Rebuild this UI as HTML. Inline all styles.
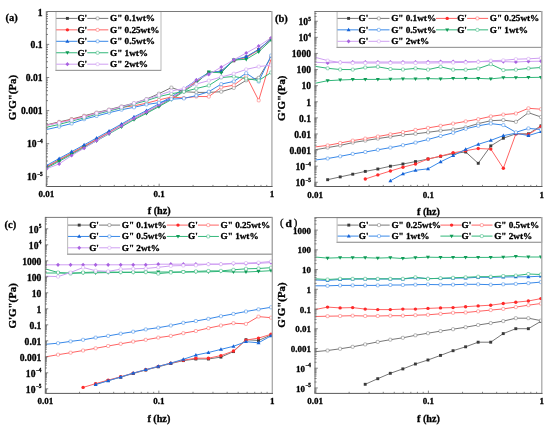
<!DOCTYPE html>
<html><head><meta charset="utf-8"><style>
html,body{margin:0;padding:0;background:#fff;}
svg{display:block;}
text{font-family:'Liberation Serif', 'Times New Roman', serif;font-weight:bold;fill:#000;stroke:#000;stroke-width:0.3px;}
</style></head><body>
<svg width="550" height="429" viewBox="0 0 550 429">
<rect width="550" height="429" fill="#fff"/>
<clipPath id="cla"><rect x="46.40" y="11.50" width="225.50" height="175.00"/></clipPath>
<g clip-path="url(#cla)">
<polyline points="46.70,167.20 59.17,160.30 71.64,153.50 84.11,146.70 96.58,139.80 109.05,132.80 121.52,125.80 133.99,118.70 146.46,112.40 158.93,105.60 171.40,98.60 183.87,90.50 196.34,82.00 208.81,72.60 221.28,71.00 233.75,60.80 246.22,57.00 258.69,49.50 271.16,38.80" fill="none" stroke="#777777" stroke-width="1" stroke-linejoin="round"/>
<rect x="45.25" y="165.75" width="2.9" height="2.9" fill="#3a3a3a"/>
<rect x="57.72" y="158.85" width="2.9" height="2.9" fill="#3a3a3a"/>
<rect x="70.19" y="152.05" width="2.9" height="2.9" fill="#3a3a3a"/>
<rect x="82.66" y="145.25" width="2.9" height="2.9" fill="#3a3a3a"/>
<rect x="95.13" y="138.35" width="2.9" height="2.9" fill="#3a3a3a"/>
<rect x="107.60" y="131.35" width="2.9" height="2.9" fill="#3a3a3a"/>
<rect x="120.07" y="124.35" width="2.9" height="2.9" fill="#3a3a3a"/>
<rect x="132.54" y="117.25" width="2.9" height="2.9" fill="#3a3a3a"/>
<rect x="145.01" y="110.95" width="2.9" height="2.9" fill="#3a3a3a"/>
<rect x="157.48" y="104.15" width="2.9" height="2.9" fill="#3a3a3a"/>
<rect x="169.95" y="97.15" width="2.9" height="2.9" fill="#3a3a3a"/>
<rect x="182.42" y="89.05" width="2.9" height="2.9" fill="#3a3a3a"/>
<rect x="194.89" y="80.55" width="2.9" height="2.9" fill="#3a3a3a"/>
<rect x="207.36" y="71.15" width="2.9" height="2.9" fill="#3a3a3a"/>
<rect x="219.83" y="69.55" width="2.9" height="2.9" fill="#3a3a3a"/>
<rect x="232.30" y="59.35" width="2.9" height="2.9" fill="#3a3a3a"/>
<rect x="244.77" y="55.55" width="2.9" height="2.9" fill="#3a3a3a"/>
<rect x="257.24" y="48.05" width="2.9" height="2.9" fill="#3a3a3a"/>
<rect x="269.71" y="37.35" width="2.9" height="2.9" fill="#3a3a3a"/>
<polyline points="46.70,166.60 59.17,159.70 71.64,152.90 84.11,146.10 96.58,139.20 109.05,132.20 121.52,125.20 133.99,118.10 146.46,111.80 158.93,105.00 171.40,98.00 183.87,89.90 196.34,81.40 208.81,72.60 221.28,71.50 233.75,60.20 246.22,57.50 258.69,50.00 271.16,38.80" fill="none" stroke="#ff6464" stroke-width="1" stroke-linejoin="round"/>
<circle cx="46.70" cy="166.60" r="1.7" fill="#ff2a2a"/>
<circle cx="59.17" cy="159.70" r="1.7" fill="#ff2a2a"/>
<circle cx="71.64" cy="152.90" r="1.7" fill="#ff2a2a"/>
<circle cx="84.11" cy="146.10" r="1.7" fill="#ff2a2a"/>
<circle cx="96.58" cy="139.20" r="1.7" fill="#ff2a2a"/>
<circle cx="109.05" cy="132.20" r="1.7" fill="#ff2a2a"/>
<circle cx="121.52" cy="125.20" r="1.7" fill="#ff2a2a"/>
<circle cx="133.99" cy="118.10" r="1.7" fill="#ff2a2a"/>
<circle cx="146.46" cy="111.80" r="1.7" fill="#ff2a2a"/>
<circle cx="158.93" cy="105.00" r="1.7" fill="#ff2a2a"/>
<circle cx="171.40" cy="98.00" r="1.7" fill="#ff2a2a"/>
<circle cx="183.87" cy="89.90" r="1.7" fill="#ff2a2a"/>
<circle cx="196.34" cy="81.40" r="1.7" fill="#ff2a2a"/>
<circle cx="208.81" cy="72.60" r="1.7" fill="#ff2a2a"/>
<circle cx="221.28" cy="71.50" r="1.7" fill="#ff2a2a"/>
<circle cx="233.75" cy="60.20" r="1.7" fill="#ff2a2a"/>
<circle cx="246.22" cy="57.50" r="1.7" fill="#ff2a2a"/>
<circle cx="258.69" cy="50.00" r="1.7" fill="#ff2a2a"/>
<circle cx="271.16" cy="38.80" r="1.7" fill="#ff2a2a"/>
<polyline points="46.70,165.40 59.17,158.50 71.64,151.70 84.11,144.90 96.58,138.00 109.05,131.00 121.52,124.00 133.99,116.90 146.46,110.60 158.93,103.80 171.40,96.80 183.87,88.70 196.34,80.20 208.81,72.60 221.28,71.20 233.75,59.80 246.22,56.70 258.69,49.40 271.16,38.80" fill="none" stroke="#3888e8" stroke-width="1" stroke-linejoin="round"/>
<polygon points="46.70,163.30 48.70,166.80 44.70,166.80" fill="#1662d6"/>
<polygon points="59.17,156.40 61.17,159.90 57.17,159.90" fill="#1662d6"/>
<polygon points="71.64,149.60 73.64,153.10 69.64,153.10" fill="#1662d6"/>
<polygon points="84.11,142.80 86.11,146.30 82.11,146.30" fill="#1662d6"/>
<polygon points="96.58,135.90 98.58,139.40 94.58,139.40" fill="#1662d6"/>
<polygon points="109.05,128.90 111.05,132.40 107.05,132.40" fill="#1662d6"/>
<polygon points="121.52,121.90 123.52,125.40 119.52,125.40" fill="#1662d6"/>
<polygon points="133.99,114.80 135.99,118.30 131.99,118.30" fill="#1662d6"/>
<polygon points="146.46,108.50 148.46,112.00 144.46,112.00" fill="#1662d6"/>
<polygon points="158.93,101.70 160.93,105.20 156.93,105.20" fill="#1662d6"/>
<polygon points="171.40,94.70 173.40,98.20 169.40,98.20" fill="#1662d6"/>
<polygon points="183.87,86.60 185.87,90.10 181.87,90.10" fill="#1662d6"/>
<polygon points="196.34,78.10 198.34,81.60 194.34,81.60" fill="#1662d6"/>
<polygon points="208.81,70.50 210.81,74.00 206.81,74.00" fill="#1662d6"/>
<polygon points="221.28,69.10 223.28,72.60 219.28,72.60" fill="#1662d6"/>
<polygon points="233.75,57.70 235.75,61.20 231.75,61.20" fill="#1662d6"/>
<polygon points="246.22,54.60 248.22,58.10 244.22,58.10" fill="#1662d6"/>
<polygon points="258.69,47.30 260.69,50.80 256.69,50.80" fill="#1662d6"/>
<polygon points="271.16,36.70 273.16,40.20 269.16,40.20" fill="#1662d6"/>
<polyline points="46.70,168.20 59.17,161.30 71.64,154.50 84.11,147.70 96.58,140.80 109.05,133.80 121.52,126.80 133.99,119.70 146.46,113.40 158.93,106.60 171.40,99.60 183.87,91.50 196.34,83.00 208.81,72.00 221.28,72.80 233.75,60.00 246.22,59.30 258.69,51.80 271.16,40.20" fill="none" stroke="#32b77a" stroke-width="1" stroke-linejoin="round"/>
<polygon points="46.70,170.30 48.70,166.80 44.70,166.80" fill="#0f9a55"/>
<polygon points="59.17,163.40 61.17,159.90 57.17,159.90" fill="#0f9a55"/>
<polygon points="71.64,156.60 73.64,153.10 69.64,153.10" fill="#0f9a55"/>
<polygon points="84.11,149.80 86.11,146.30 82.11,146.30" fill="#0f9a55"/>
<polygon points="96.58,142.90 98.58,139.40 94.58,139.40" fill="#0f9a55"/>
<polygon points="109.05,135.90 111.05,132.40 107.05,132.40" fill="#0f9a55"/>
<polygon points="121.52,128.90 123.52,125.40 119.52,125.40" fill="#0f9a55"/>
<polygon points="133.99,121.80 135.99,118.30 131.99,118.30" fill="#0f9a55"/>
<polygon points="146.46,115.50 148.46,112.00 144.46,112.00" fill="#0f9a55"/>
<polygon points="158.93,108.70 160.93,105.20 156.93,105.20" fill="#0f9a55"/>
<polygon points="171.40,101.70 173.40,98.20 169.40,98.20" fill="#0f9a55"/>
<polygon points="183.87,93.60 185.87,90.10 181.87,90.10" fill="#0f9a55"/>
<polygon points="196.34,85.10 198.34,81.60 194.34,81.60" fill="#0f9a55"/>
<polygon points="208.81,74.10 210.81,70.60 206.81,70.60" fill="#0f9a55"/>
<polygon points="221.28,74.90 223.28,71.40 219.28,71.40" fill="#0f9a55"/>
<polygon points="233.75,62.10 235.75,58.60 231.75,58.60" fill="#0f9a55"/>
<polygon points="246.22,61.40 248.22,57.90 244.22,57.90" fill="#0f9a55"/>
<polygon points="258.69,53.90 260.69,50.40 256.69,50.40" fill="#0f9a55"/>
<polygon points="271.16,42.30 273.16,38.80 269.16,38.80" fill="#0f9a55"/>
<polyline points="46.70,168.70 59.17,163.90 71.64,155.50 84.11,148.20 96.58,140.60 109.05,133.30 121.52,125.80 133.99,118.30 146.46,111.90 158.93,105.00 171.40,97.90 183.87,89.70 196.34,80.00 208.81,74.40 221.28,67.10 233.75,59.80 246.22,53.00 258.69,46.10 271.16,37.80" fill="none" stroke="#cf9ff2" stroke-width="1" stroke-linejoin="round"/>
<polygon points="46.70,166.60 48.60,168.70 46.70,170.80 44.80,168.70" fill="#a862e0"/>
<polygon points="59.17,161.80 61.07,163.90 59.17,166.00 57.27,163.90" fill="#a862e0"/>
<polygon points="71.64,153.40 73.54,155.50 71.64,157.60 69.74,155.50" fill="#a862e0"/>
<polygon points="84.11,146.10 86.01,148.20 84.11,150.30 82.21,148.20" fill="#a862e0"/>
<polygon points="96.58,138.50 98.48,140.60 96.58,142.70 94.68,140.60" fill="#a862e0"/>
<polygon points="109.05,131.20 110.95,133.30 109.05,135.40 107.15,133.30" fill="#a862e0"/>
<polygon points="121.52,123.70 123.42,125.80 121.52,127.90 119.62,125.80" fill="#a862e0"/>
<polygon points="133.99,116.20 135.89,118.30 133.99,120.40 132.09,118.30" fill="#a862e0"/>
<polygon points="146.46,109.80 148.36,111.90 146.46,114.00 144.56,111.90" fill="#a862e0"/>
<polygon points="158.93,102.90 160.83,105.00 158.93,107.10 157.03,105.00" fill="#a862e0"/>
<polygon points="171.40,95.80 173.30,97.90 171.40,100.00 169.50,97.90" fill="#a862e0"/>
<polygon points="183.87,87.60 185.77,89.70 183.87,91.80 181.97,89.70" fill="#a862e0"/>
<polygon points="196.34,77.90 198.24,80.00 196.34,82.10 194.44,80.00" fill="#a862e0"/>
<polygon points="208.81,72.30 210.71,74.40 208.81,76.50 206.91,74.40" fill="#a862e0"/>
<polygon points="221.28,65.00 223.18,67.10 221.28,69.20 219.38,67.10" fill="#a862e0"/>
<polygon points="233.75,57.70 235.65,59.80 233.75,61.90 231.85,59.80" fill="#a862e0"/>
<polygon points="246.22,50.90 248.12,53.00 246.22,55.10 244.32,53.00" fill="#a862e0"/>
<polygon points="258.69,44.00 260.59,46.10 258.69,48.20 256.79,46.10" fill="#a862e0"/>
<polygon points="271.16,35.70 273.06,37.80 271.16,39.90 269.26,37.80" fill="#a862e0"/>
<polyline points="46.70,124.80 59.17,121.90 71.64,119.10 84.11,115.80 96.58,112.60 109.05,109.60 121.52,106.40 133.99,103.20 146.46,99.10 158.93,93.70 171.40,87.60 183.87,91.70 196.34,92.40 208.81,92.40 221.28,91.70 233.75,87.90 246.22,80.30 258.69,77.80 271.16,57.00" fill="none" stroke="#777777" stroke-width="1" stroke-linejoin="round"/>
<rect x="57.67" y="120.40" width="3.0" height="3.0" rx="0.8" fill="#fff" stroke="#777777" stroke-opacity="0.75" stroke-width="0.7"/>
<rect x="70.14" y="117.60" width="3.0" height="3.0" rx="0.8" fill="#fff" stroke="#777777" stroke-opacity="0.75" stroke-width="0.7"/>
<rect x="82.61" y="114.30" width="3.0" height="3.0" rx="0.8" fill="#fff" stroke="#777777" stroke-opacity="0.75" stroke-width="0.7"/>
<rect x="95.08" y="111.10" width="3.0" height="3.0" rx="0.8" fill="#fff" stroke="#777777" stroke-opacity="0.75" stroke-width="0.7"/>
<rect x="107.55" y="108.10" width="3.0" height="3.0" rx="0.8" fill="#fff" stroke="#777777" stroke-opacity="0.75" stroke-width="0.7"/>
<rect x="120.02" y="104.90" width="3.0" height="3.0" rx="0.8" fill="#fff" stroke="#777777" stroke-opacity="0.75" stroke-width="0.7"/>
<rect x="132.49" y="101.70" width="3.0" height="3.0" rx="0.8" fill="#fff" stroke="#777777" stroke-opacity="0.75" stroke-width="0.7"/>
<rect x="144.96" y="97.60" width="3.0" height="3.0" rx="0.8" fill="#fff" stroke="#777777" stroke-opacity="0.75" stroke-width="0.7"/>
<rect x="157.43" y="92.20" width="3.0" height="3.0" rx="0.8" fill="#fff" stroke="#777777" stroke-opacity="0.75" stroke-width="0.7"/>
<rect x="169.90" y="86.10" width="3.0" height="3.0" rx="0.8" fill="#fff" stroke="#777777" stroke-opacity="0.75" stroke-width="0.7"/>
<rect x="182.37" y="90.20" width="3.0" height="3.0" rx="0.8" fill="#fff" stroke="#777777" stroke-opacity="0.75" stroke-width="0.7"/>
<rect x="194.84" y="90.90" width="3.0" height="3.0" rx="0.8" fill="#fff" stroke="#777777" stroke-opacity="0.75" stroke-width="0.7"/>
<rect x="207.31" y="90.90" width="3.0" height="3.0" rx="0.8" fill="#fff" stroke="#777777" stroke-opacity="0.75" stroke-width="0.7"/>
<rect x="219.78" y="90.20" width="3.0" height="3.0" rx="0.8" fill="#fff" stroke="#777777" stroke-opacity="0.75" stroke-width="0.7"/>
<rect x="232.25" y="86.40" width="3.0" height="3.0" rx="0.8" fill="#fff" stroke="#777777" stroke-opacity="0.75" stroke-width="0.7"/>
<rect x="244.72" y="78.80" width="3.0" height="3.0" rx="0.8" fill="#fff" stroke="#777777" stroke-opacity="0.75" stroke-width="0.7"/>
<rect x="257.19" y="76.30" width="3.0" height="3.0" rx="0.8" fill="#fff" stroke="#777777" stroke-opacity="0.75" stroke-width="0.7"/>
<rect x="269.66" y="55.50" width="3.0" height="3.0" rx="0.8" fill="#fff" stroke="#777777" stroke-opacity="0.75" stroke-width="0.7"/>
<polyline points="46.70,125.30 59.17,122.40 71.64,119.60 84.11,116.40 96.58,113.20 109.05,110.40 121.52,107.40 133.99,105.80 146.46,103.20 158.93,99.90 171.40,97.00 183.87,98.00 196.34,96.50 208.81,96.60 221.28,87.40 233.75,85.20 246.22,75.90 258.69,100.40 271.16,58.50" fill="none" stroke="#ff6464" stroke-width="1" stroke-linejoin="round"/>
<rect x="57.67" y="120.90" width="3.0" height="3.0" rx="0.8" fill="#fff" stroke="#ff6464" stroke-opacity="0.75" stroke-width="0.7"/>
<rect x="70.14" y="118.10" width="3.0" height="3.0" rx="0.8" fill="#fff" stroke="#ff6464" stroke-opacity="0.75" stroke-width="0.7"/>
<rect x="82.61" y="114.90" width="3.0" height="3.0" rx="0.8" fill="#fff" stroke="#ff6464" stroke-opacity="0.75" stroke-width="0.7"/>
<rect x="95.08" y="111.70" width="3.0" height="3.0" rx="0.8" fill="#fff" stroke="#ff6464" stroke-opacity="0.75" stroke-width="0.7"/>
<rect x="107.55" y="108.90" width="3.0" height="3.0" rx="0.8" fill="#fff" stroke="#ff6464" stroke-opacity="0.75" stroke-width="0.7"/>
<rect x="120.02" y="105.90" width="3.0" height="3.0" rx="0.8" fill="#fff" stroke="#ff6464" stroke-opacity="0.75" stroke-width="0.7"/>
<rect x="132.49" y="104.30" width="3.0" height="3.0" rx="0.8" fill="#fff" stroke="#ff6464" stroke-opacity="0.75" stroke-width="0.7"/>
<rect x="144.96" y="101.70" width="3.0" height="3.0" rx="0.8" fill="#fff" stroke="#ff6464" stroke-opacity="0.75" stroke-width="0.7"/>
<rect x="157.43" y="98.40" width="3.0" height="3.0" rx="0.8" fill="#fff" stroke="#ff6464" stroke-opacity="0.75" stroke-width="0.7"/>
<rect x="169.90" y="95.50" width="3.0" height="3.0" rx="0.8" fill="#fff" stroke="#ff6464" stroke-opacity="0.75" stroke-width="0.7"/>
<rect x="182.37" y="96.50" width="3.0" height="3.0" rx="0.8" fill="#fff" stroke="#ff6464" stroke-opacity="0.75" stroke-width="0.7"/>
<rect x="194.84" y="95.00" width="3.0" height="3.0" rx="0.8" fill="#fff" stroke="#ff6464" stroke-opacity="0.75" stroke-width="0.7"/>
<rect x="207.31" y="95.10" width="3.0" height="3.0" rx="0.8" fill="#fff" stroke="#ff6464" stroke-opacity="0.75" stroke-width="0.7"/>
<rect x="219.78" y="85.90" width="3.0" height="3.0" rx="0.8" fill="#fff" stroke="#ff6464" stroke-opacity="0.75" stroke-width="0.7"/>
<rect x="232.25" y="83.70" width="3.0" height="3.0" rx="0.8" fill="#fff" stroke="#ff6464" stroke-opacity="0.75" stroke-width="0.7"/>
<rect x="244.72" y="74.40" width="3.0" height="3.0" rx="0.8" fill="#fff" stroke="#ff6464" stroke-opacity="0.75" stroke-width="0.7"/>
<rect x="257.19" y="98.90" width="3.0" height="3.0" rx="0.8" fill="#fff" stroke="#ff6464" stroke-opacity="0.75" stroke-width="0.7"/>
<rect x="269.66" y="57.00" width="3.0" height="3.0" rx="0.8" fill="#fff" stroke="#ff6464" stroke-opacity="0.75" stroke-width="0.7"/>
<polyline points="46.70,129.50 59.17,126.70 71.64,123.50 84.11,119.20 96.58,116.00 109.05,112.70 121.52,109.70 133.99,107.30 146.46,104.50 158.93,102.70 171.40,99.20 183.87,98.40 196.34,95.60 208.81,91.70 221.28,84.10 233.75,81.40 246.22,73.20 258.69,81.50 271.16,55.50" fill="none" stroke="#3888e8" stroke-width="1" stroke-linejoin="round"/>
<rect x="57.67" y="125.20" width="3.0" height="3.0" rx="0.8" fill="#fff" stroke="#3888e8" stroke-opacity="0.75" stroke-width="0.7"/>
<rect x="70.14" y="122.00" width="3.0" height="3.0" rx="0.8" fill="#fff" stroke="#3888e8" stroke-opacity="0.75" stroke-width="0.7"/>
<rect x="82.61" y="117.70" width="3.0" height="3.0" rx="0.8" fill="#fff" stroke="#3888e8" stroke-opacity="0.75" stroke-width="0.7"/>
<rect x="95.08" y="114.50" width="3.0" height="3.0" rx="0.8" fill="#fff" stroke="#3888e8" stroke-opacity="0.75" stroke-width="0.7"/>
<rect x="107.55" y="111.20" width="3.0" height="3.0" rx="0.8" fill="#fff" stroke="#3888e8" stroke-opacity="0.75" stroke-width="0.7"/>
<rect x="120.02" y="108.20" width="3.0" height="3.0" rx="0.8" fill="#fff" stroke="#3888e8" stroke-opacity="0.75" stroke-width="0.7"/>
<rect x="132.49" y="105.80" width="3.0" height="3.0" rx="0.8" fill="#fff" stroke="#3888e8" stroke-opacity="0.75" stroke-width="0.7"/>
<rect x="144.96" y="103.00" width="3.0" height="3.0" rx="0.8" fill="#fff" stroke="#3888e8" stroke-opacity="0.75" stroke-width="0.7"/>
<rect x="157.43" y="101.20" width="3.0" height="3.0" rx="0.8" fill="#fff" stroke="#3888e8" stroke-opacity="0.75" stroke-width="0.7"/>
<rect x="169.90" y="97.70" width="3.0" height="3.0" rx="0.8" fill="#fff" stroke="#3888e8" stroke-opacity="0.75" stroke-width="0.7"/>
<rect x="182.37" y="96.90" width="3.0" height="3.0" rx="0.8" fill="#fff" stroke="#3888e8" stroke-opacity="0.75" stroke-width="0.7"/>
<rect x="194.84" y="94.10" width="3.0" height="3.0" rx="0.8" fill="#fff" stroke="#3888e8" stroke-opacity="0.75" stroke-width="0.7"/>
<rect x="207.31" y="90.20" width="3.0" height="3.0" rx="0.8" fill="#fff" stroke="#3888e8" stroke-opacity="0.75" stroke-width="0.7"/>
<rect x="219.78" y="82.60" width="3.0" height="3.0" rx="0.8" fill="#fff" stroke="#3888e8" stroke-opacity="0.75" stroke-width="0.7"/>
<rect x="232.25" y="79.90" width="3.0" height="3.0" rx="0.8" fill="#fff" stroke="#3888e8" stroke-opacity="0.75" stroke-width="0.7"/>
<rect x="244.72" y="71.70" width="3.0" height="3.0" rx="0.8" fill="#fff" stroke="#3888e8" stroke-opacity="0.75" stroke-width="0.7"/>
<rect x="257.19" y="80.00" width="3.0" height="3.0" rx="0.8" fill="#fff" stroke="#3888e8" stroke-opacity="0.75" stroke-width="0.7"/>
<rect x="269.66" y="54.00" width="3.0" height="3.0" rx="0.8" fill="#fff" stroke="#3888e8" stroke-opacity="0.75" stroke-width="0.7"/>
<polyline points="46.70,127.20 59.17,124.40 71.64,121.10 84.11,117.90 96.58,114.10 109.05,111.00 121.52,107.80 133.99,104.00 146.46,100.70 158.93,96.60 171.40,93.70 183.87,91.70 196.34,88.50 208.81,85.50 221.28,77.50 233.75,76.50 246.22,78.60 258.69,80.50 271.16,72.50" fill="none" stroke="#32b77a" stroke-width="1" stroke-linejoin="round"/>
<rect x="57.67" y="122.90" width="3.0" height="3.0" rx="0.8" fill="#fff" stroke="#32b77a" stroke-opacity="0.75" stroke-width="0.7"/>
<rect x="70.14" y="119.60" width="3.0" height="3.0" rx="0.8" fill="#fff" stroke="#32b77a" stroke-opacity="0.75" stroke-width="0.7"/>
<rect x="82.61" y="116.40" width="3.0" height="3.0" rx="0.8" fill="#fff" stroke="#32b77a" stroke-opacity="0.75" stroke-width="0.7"/>
<rect x="95.08" y="112.60" width="3.0" height="3.0" rx="0.8" fill="#fff" stroke="#32b77a" stroke-opacity="0.75" stroke-width="0.7"/>
<rect x="107.55" y="109.50" width="3.0" height="3.0" rx="0.8" fill="#fff" stroke="#32b77a" stroke-opacity="0.75" stroke-width="0.7"/>
<rect x="120.02" y="106.30" width="3.0" height="3.0" rx="0.8" fill="#fff" stroke="#32b77a" stroke-opacity="0.75" stroke-width="0.7"/>
<rect x="132.49" y="102.50" width="3.0" height="3.0" rx="0.8" fill="#fff" stroke="#32b77a" stroke-opacity="0.75" stroke-width="0.7"/>
<rect x="144.96" y="99.20" width="3.0" height="3.0" rx="0.8" fill="#fff" stroke="#32b77a" stroke-opacity="0.75" stroke-width="0.7"/>
<rect x="157.43" y="95.10" width="3.0" height="3.0" rx="0.8" fill="#fff" stroke="#32b77a" stroke-opacity="0.75" stroke-width="0.7"/>
<rect x="169.90" y="92.20" width="3.0" height="3.0" rx="0.8" fill="#fff" stroke="#32b77a" stroke-opacity="0.75" stroke-width="0.7"/>
<rect x="182.37" y="90.20" width="3.0" height="3.0" rx="0.8" fill="#fff" stroke="#32b77a" stroke-opacity="0.75" stroke-width="0.7"/>
<rect x="194.84" y="87.00" width="3.0" height="3.0" rx="0.8" fill="#fff" stroke="#32b77a" stroke-opacity="0.75" stroke-width="0.7"/>
<rect x="207.31" y="84.00" width="3.0" height="3.0" rx="0.8" fill="#fff" stroke="#32b77a" stroke-opacity="0.75" stroke-width="0.7"/>
<rect x="219.78" y="76.00" width="3.0" height="3.0" rx="0.8" fill="#fff" stroke="#32b77a" stroke-opacity="0.75" stroke-width="0.7"/>
<rect x="232.25" y="75.00" width="3.0" height="3.0" rx="0.8" fill="#fff" stroke="#32b77a" stroke-opacity="0.75" stroke-width="0.7"/>
<rect x="244.72" y="77.10" width="3.0" height="3.0" rx="0.8" fill="#fff" stroke="#32b77a" stroke-opacity="0.75" stroke-width="0.7"/>
<rect x="257.19" y="79.00" width="3.0" height="3.0" rx="0.8" fill="#fff" stroke="#32b77a" stroke-opacity="0.75" stroke-width="0.7"/>
<rect x="269.66" y="71.00" width="3.0" height="3.0" rx="0.8" fill="#fff" stroke="#32b77a" stroke-opacity="0.75" stroke-width="0.7"/>
<polyline points="46.70,125.20 59.17,122.80 71.64,120.20 84.11,116.80 96.58,113.20 109.05,110.20 121.52,107.00 133.99,103.20 146.46,99.50 158.93,95.20 171.40,91.00 183.87,88.50 196.34,84.00 208.81,80.60 221.28,77.00 233.75,73.70 246.22,69.40 258.69,66.60 271.16,65.20" fill="none" stroke="#cf9ff2" stroke-width="1" stroke-linejoin="round"/>
<rect x="57.67" y="121.30" width="3.0" height="3.0" rx="0.8" fill="#fff" stroke="#cf9ff2" stroke-opacity="0.75" stroke-width="0.7"/>
<rect x="70.14" y="118.70" width="3.0" height="3.0" rx="0.8" fill="#fff" stroke="#cf9ff2" stroke-opacity="0.75" stroke-width="0.7"/>
<rect x="82.61" y="115.30" width="3.0" height="3.0" rx="0.8" fill="#fff" stroke="#cf9ff2" stroke-opacity="0.75" stroke-width="0.7"/>
<rect x="95.08" y="111.70" width="3.0" height="3.0" rx="0.8" fill="#fff" stroke="#cf9ff2" stroke-opacity="0.75" stroke-width="0.7"/>
<rect x="107.55" y="108.70" width="3.0" height="3.0" rx="0.8" fill="#fff" stroke="#cf9ff2" stroke-opacity="0.75" stroke-width="0.7"/>
<rect x="120.02" y="105.50" width="3.0" height="3.0" rx="0.8" fill="#fff" stroke="#cf9ff2" stroke-opacity="0.75" stroke-width="0.7"/>
<rect x="132.49" y="101.70" width="3.0" height="3.0" rx="0.8" fill="#fff" stroke="#cf9ff2" stroke-opacity="0.75" stroke-width="0.7"/>
<rect x="144.96" y="98.00" width="3.0" height="3.0" rx="0.8" fill="#fff" stroke="#cf9ff2" stroke-opacity="0.75" stroke-width="0.7"/>
<rect x="157.43" y="93.70" width="3.0" height="3.0" rx="0.8" fill="#fff" stroke="#cf9ff2" stroke-opacity="0.75" stroke-width="0.7"/>
<rect x="169.90" y="89.50" width="3.0" height="3.0" rx="0.8" fill="#fff" stroke="#cf9ff2" stroke-opacity="0.75" stroke-width="0.7"/>
<rect x="182.37" y="87.00" width="3.0" height="3.0" rx="0.8" fill="#fff" stroke="#cf9ff2" stroke-opacity="0.75" stroke-width="0.7"/>
<rect x="194.84" y="82.50" width="3.0" height="3.0" rx="0.8" fill="#fff" stroke="#cf9ff2" stroke-opacity="0.75" stroke-width="0.7"/>
<rect x="207.31" y="79.10" width="3.0" height="3.0" rx="0.8" fill="#fff" stroke="#cf9ff2" stroke-opacity="0.75" stroke-width="0.7"/>
<rect x="219.78" y="75.50" width="3.0" height="3.0" rx="0.8" fill="#fff" stroke="#cf9ff2" stroke-opacity="0.75" stroke-width="0.7"/>
<rect x="232.25" y="72.20" width="3.0" height="3.0" rx="0.8" fill="#fff" stroke="#cf9ff2" stroke-opacity="0.75" stroke-width="0.7"/>
<rect x="244.72" y="67.90" width="3.0" height="3.0" rx="0.8" fill="#fff" stroke="#cf9ff2" stroke-opacity="0.75" stroke-width="0.7"/>
<rect x="257.19" y="65.10" width="3.0" height="3.0" rx="0.8" fill="#fff" stroke="#cf9ff2" stroke-opacity="0.75" stroke-width="0.7"/>
<rect x="269.66" y="63.70" width="3.0" height="3.0" rx="0.8" fill="#fff" stroke="#cf9ff2" stroke-opacity="0.75" stroke-width="0.7"/>
</g>
<text x="42.60" y="180.20" font-size="9.6" text-anchor="end" >10<tspan font-size="5.3" dx="0.3" dy="-4.4">−5</tspan></text>
<text x="42.60" y="147.10" font-size="9.6" text-anchor="end" >10<tspan font-size="5.3" dx="0.3" dy="-4.4">−4</tspan></text>
<text x="42.60" y="114.00" font-size="9.6" text-anchor="end" >0.001</text>
<text x="42.60" y="80.90" font-size="9.6" text-anchor="end" >0.01</text>
<text x="42.60" y="47.80" font-size="9.6" text-anchor="end" >0.1</text>
<text x="42.60" y="15.60" font-size="9.6" text-anchor="end" >1</text>
<text x="46.40" y="197.20" font-size="9.0" text-anchor="middle" >0.01</text>
<text x="159.15" y="197.20" font-size="9.0" text-anchor="middle" >0.1</text>
<text x="271.90" y="197.20" font-size="9.0" text-anchor="middle" >1</text>
<text x="159.15" y="213.80" font-size="10.2" text-anchor="middle" >f (hz)</text>
<text x="0" y="0" font-size="10.9" text-anchor="middle" transform="translate(15.80,97.50) rotate(-90)">G'G"(Pa)</text>
<rect x="56.00" y="11.50" width="105.00" height="58.90" fill="#fff" stroke="#c0c0c0" stroke-width="1.1"/>
<line x1="55.50" y1="70.40" x2="161.00" y2="70.40" stroke="#999" stroke-width="1"/>
<line x1="56.20" y1="18.40" x2="77.30" y2="18.40" stroke="#777777" stroke-width="1"/>
<rect x="65.95" y="16.95" width="2.9" height="2.9" fill="#3a3a3a"/>
<text x="77.40" y="21.20" font-size="9.2" text-anchor="start" >G'</text>
<line x1="87.30" y1="18.40" x2="108.30" y2="18.40" stroke="#777777" stroke-width="1"/>
<rect x="96.10" y="16.90" width="3.0" height="3.0" rx="0.8" fill="#fff" stroke="#777777" stroke-opacity="0.75" stroke-width="0.7"/>
<text x="110.00" y="21.20" font-size="9.2" text-anchor="start" >G" 0.1wt%</text>
<line x1="56.20" y1="29.85" x2="77.30" y2="29.85" stroke="#ff6464" stroke-width="1"/>
<circle cx="67.40" cy="29.85" r="1.7" fill="#ff2a2a"/>
<text x="77.40" y="32.65" font-size="9.2" text-anchor="start" >G'</text>
<line x1="87.30" y1="29.85" x2="108.30" y2="29.85" stroke="#ff6464" stroke-width="1"/>
<rect x="96.10" y="28.35" width="3.0" height="3.0" rx="0.8" fill="#fff" stroke="#ff6464" stroke-opacity="0.75" stroke-width="0.7"/>
<text x="110.00" y="32.65" font-size="9.2" text-anchor="start" >G" 0.25wt%</text>
<line x1="56.20" y1="41.30" x2="77.30" y2="41.30" stroke="#3888e8" stroke-width="1"/>
<polygon points="67.40,39.20 69.40,42.70 65.40,42.70" fill="#1662d6"/>
<text x="77.40" y="44.10" font-size="9.2" text-anchor="start" >G'</text>
<line x1="87.30" y1="41.30" x2="108.30" y2="41.30" stroke="#3888e8" stroke-width="1"/>
<rect x="96.10" y="39.80" width="3.0" height="3.0" rx="0.8" fill="#fff" stroke="#3888e8" stroke-opacity="0.75" stroke-width="0.7"/>
<text x="110.00" y="44.10" font-size="9.2" text-anchor="start" >G" 0.5wt%</text>
<line x1="56.20" y1="52.75" x2="77.30" y2="52.75" stroke="#32b77a" stroke-width="1"/>
<polygon points="67.40,54.85 69.40,51.35 65.40,51.35" fill="#0f9a55"/>
<text x="77.40" y="55.55" font-size="9.2" text-anchor="start" >G'</text>
<line x1="87.30" y1="52.75" x2="108.30" y2="52.75" stroke="#32b77a" stroke-width="1"/>
<rect x="96.10" y="51.25" width="3.0" height="3.0" rx="0.8" fill="#fff" stroke="#32b77a" stroke-opacity="0.75" stroke-width="0.7"/>
<text x="110.00" y="55.55" font-size="9.2" text-anchor="start" >G" 1wt%</text>
<line x1="56.20" y1="64.20" x2="77.30" y2="64.20" stroke="#cf9ff2" stroke-width="1"/>
<polygon points="67.40,62.10 69.30,64.20 67.40,66.30 65.50,64.20" fill="#a862e0"/>
<text x="77.40" y="67.00" font-size="9.2" text-anchor="start" >G'</text>
<line x1="87.30" y1="64.20" x2="108.30" y2="64.20" stroke="#cf9ff2" stroke-width="1"/>
<rect x="96.10" y="62.70" width="3.0" height="3.0" rx="0.8" fill="#fff" stroke="#cf9ff2" stroke-opacity="0.75" stroke-width="0.7"/>
<text x="110.00" y="67.00" font-size="9.2" text-anchor="start" >G" 2wt%</text>
<line x1="46.40" y1="11.50" x2="271.90" y2="11.50" stroke="#7a7a7a" stroke-width="1"/>
<line x1="271.90" y1="11.00" x2="271.90" y2="187.00" stroke="#a8a8a8" stroke-width="1.3"/>
<line x1="46.40" y1="186.50" x2="272.50" y2="186.50" stroke="#5a5a5a" stroke-width="1"/>
<line x1="46.40" y1="11.00" x2="46.40" y2="187.00" stroke="#939393" stroke-width="1.3"/>
<line x1="46.00" y1="184.14" x2="48.00" y2="184.14" stroke="#666" stroke-width="0.8"/>
<line x1="46.00" y1="181.93" x2="48.00" y2="181.93" stroke="#666" stroke-width="0.8"/>
<line x1="46.00" y1="180.01" x2="48.00" y2="180.01" stroke="#666" stroke-width="0.8"/>
<line x1="46.00" y1="178.31" x2="48.00" y2="178.31" stroke="#666" stroke-width="0.8"/>
<line x1="46.00" y1="176.80" x2="49.20" y2="176.80" stroke="#666" stroke-width="0.8"/>
<line x1="46.00" y1="166.84" x2="48.00" y2="166.84" stroke="#666" stroke-width="0.8"/>
<line x1="46.00" y1="161.01" x2="48.00" y2="161.01" stroke="#666" stroke-width="0.8"/>
<line x1="46.00" y1="156.87" x2="48.00" y2="156.87" stroke="#666" stroke-width="0.8"/>
<line x1="46.00" y1="153.66" x2="48.00" y2="153.66" stroke="#666" stroke-width="0.8"/>
<line x1="46.00" y1="151.04" x2="48.00" y2="151.04" stroke="#666" stroke-width="0.8"/>
<line x1="46.00" y1="148.83" x2="48.00" y2="148.83" stroke="#666" stroke-width="0.8"/>
<line x1="46.00" y1="146.91" x2="48.00" y2="146.91" stroke="#666" stroke-width="0.8"/>
<line x1="46.00" y1="145.21" x2="48.00" y2="145.21" stroke="#666" stroke-width="0.8"/>
<line x1="46.00" y1="143.70" x2="49.20" y2="143.70" stroke="#666" stroke-width="0.8"/>
<line x1="46.00" y1="133.74" x2="48.00" y2="133.74" stroke="#666" stroke-width="0.8"/>
<line x1="46.00" y1="127.91" x2="48.00" y2="127.91" stroke="#666" stroke-width="0.8"/>
<line x1="46.00" y1="123.77" x2="48.00" y2="123.77" stroke="#666" stroke-width="0.8"/>
<line x1="46.00" y1="120.56" x2="48.00" y2="120.56" stroke="#666" stroke-width="0.8"/>
<line x1="46.00" y1="117.94" x2="48.00" y2="117.94" stroke="#666" stroke-width="0.8"/>
<line x1="46.00" y1="115.73" x2="48.00" y2="115.73" stroke="#666" stroke-width="0.8"/>
<line x1="46.00" y1="113.81" x2="48.00" y2="113.81" stroke="#666" stroke-width="0.8"/>
<line x1="46.00" y1="112.11" x2="48.00" y2="112.11" stroke="#666" stroke-width="0.8"/>
<line x1="46.00" y1="110.60" x2="49.20" y2="110.60" stroke="#666" stroke-width="0.8"/>
<line x1="46.00" y1="100.64" x2="48.00" y2="100.64" stroke="#666" stroke-width="0.8"/>
<line x1="46.00" y1="94.81" x2="48.00" y2="94.81" stroke="#666" stroke-width="0.8"/>
<line x1="46.00" y1="90.67" x2="48.00" y2="90.67" stroke="#666" stroke-width="0.8"/>
<line x1="46.00" y1="87.46" x2="48.00" y2="87.46" stroke="#666" stroke-width="0.8"/>
<line x1="46.00" y1="84.84" x2="48.00" y2="84.84" stroke="#666" stroke-width="0.8"/>
<line x1="46.00" y1="82.63" x2="48.00" y2="82.63" stroke="#666" stroke-width="0.8"/>
<line x1="46.00" y1="80.71" x2="48.00" y2="80.71" stroke="#666" stroke-width="0.8"/>
<line x1="46.00" y1="79.01" x2="48.00" y2="79.01" stroke="#666" stroke-width="0.8"/>
<line x1="46.00" y1="77.50" x2="49.20" y2="77.50" stroke="#666" stroke-width="0.8"/>
<line x1="46.00" y1="67.54" x2="48.00" y2="67.54" stroke="#666" stroke-width="0.8"/>
<line x1="46.00" y1="61.71" x2="48.00" y2="61.71" stroke="#666" stroke-width="0.8"/>
<line x1="46.00" y1="57.57" x2="48.00" y2="57.57" stroke="#666" stroke-width="0.8"/>
<line x1="46.00" y1="54.36" x2="48.00" y2="54.36" stroke="#666" stroke-width="0.8"/>
<line x1="46.00" y1="51.74" x2="48.00" y2="51.74" stroke="#666" stroke-width="0.8"/>
<line x1="46.00" y1="49.53" x2="48.00" y2="49.53" stroke="#666" stroke-width="0.8"/>
<line x1="46.00" y1="47.61" x2="48.00" y2="47.61" stroke="#666" stroke-width="0.8"/>
<line x1="46.00" y1="45.91" x2="48.00" y2="45.91" stroke="#666" stroke-width="0.8"/>
<line x1="46.00" y1="44.40" x2="49.20" y2="44.40" stroke="#666" stroke-width="0.8"/>
<line x1="46.00" y1="34.44" x2="48.00" y2="34.44" stroke="#666" stroke-width="0.8"/>
<line x1="46.00" y1="28.61" x2="48.00" y2="28.61" stroke="#666" stroke-width="0.8"/>
<line x1="46.00" y1="24.47" x2="48.00" y2="24.47" stroke="#666" stroke-width="0.8"/>
<line x1="46.00" y1="21.26" x2="48.00" y2="21.26" stroke="#666" stroke-width="0.8"/>
<line x1="46.00" y1="18.64" x2="48.00" y2="18.64" stroke="#666" stroke-width="0.8"/>
<line x1="46.00" y1="16.43" x2="48.00" y2="16.43" stroke="#666" stroke-width="0.8"/>
<line x1="46.00" y1="14.51" x2="48.00" y2="14.51" stroke="#666" stroke-width="0.8"/>
<line x1="46.00" y1="12.81" x2="48.00" y2="12.81" stroke="#666" stroke-width="0.8"/>
<line x1="46.40" y1="186.50" x2="46.40" y2="183.70" stroke="#666" stroke-width="0.8"/>
<line x1="80.34" y1="186.50" x2="80.34" y2="184.90" stroke="#666" stroke-width="0.8"/>
<line x1="100.20" y1="186.50" x2="100.20" y2="184.90" stroke="#666" stroke-width="0.8"/>
<line x1="114.28" y1="186.50" x2="114.28" y2="184.90" stroke="#666" stroke-width="0.8"/>
<line x1="125.21" y1="186.50" x2="125.21" y2="184.90" stroke="#666" stroke-width="0.8"/>
<line x1="134.14" y1="186.50" x2="134.14" y2="184.90" stroke="#666" stroke-width="0.8"/>
<line x1="141.68" y1="186.50" x2="141.68" y2="184.90" stroke="#666" stroke-width="0.8"/>
<line x1="148.22" y1="186.50" x2="148.22" y2="184.90" stroke="#666" stroke-width="0.8"/>
<line x1="153.99" y1="186.50" x2="153.99" y2="184.90" stroke="#666" stroke-width="0.8"/>
<line x1="159.15" y1="186.50" x2="159.15" y2="183.70" stroke="#666" stroke-width="0.8"/>
<line x1="193.09" y1="186.50" x2="193.09" y2="184.90" stroke="#666" stroke-width="0.8"/>
<line x1="212.95" y1="186.50" x2="212.95" y2="184.90" stroke="#666" stroke-width="0.8"/>
<line x1="227.03" y1="186.50" x2="227.03" y2="184.90" stroke="#666" stroke-width="0.8"/>
<line x1="237.96" y1="186.50" x2="237.96" y2="184.90" stroke="#666" stroke-width="0.8"/>
<line x1="246.89" y1="186.50" x2="246.89" y2="184.90" stroke="#666" stroke-width="0.8"/>
<line x1="254.43" y1="186.50" x2="254.43" y2="184.90" stroke="#666" stroke-width="0.8"/>
<line x1="260.97" y1="186.50" x2="260.97" y2="184.90" stroke="#666" stroke-width="0.8"/>
<line x1="266.74" y1="186.50" x2="266.74" y2="184.90" stroke="#666" stroke-width="0.8"/>
<text x="5.50" y="21.20" font-size="10.5" text-anchor="start" >(a)</text>
<clipPath id="clb"><rect x="315.00" y="11.50" width="226.80" height="175.00"/></clipPath>
<g clip-path="url(#clb)">
<polyline points="327.65,179.70 340.20,176.90 352.75,174.20 365.30,171.40 377.85,169.00 390.40,166.20 402.95,164.00 415.50,161.60 428.05,159.00 440.60,156.30 453.15,153.50 465.70,152.00 478.25,163.30 490.80,145.90 503.35,138.20 515.90,133.80 528.45,133.80 541.00,125.80" fill="none" stroke="#777777" stroke-width="1" stroke-linejoin="round"/>
<rect x="326.20" y="178.25" width="2.9" height="2.9" fill="#3a3a3a"/>
<rect x="338.75" y="175.45" width="2.9" height="2.9" fill="#3a3a3a"/>
<rect x="351.30" y="172.75" width="2.9" height="2.9" fill="#3a3a3a"/>
<rect x="363.85" y="169.95" width="2.9" height="2.9" fill="#3a3a3a"/>
<rect x="376.40" y="167.55" width="2.9" height="2.9" fill="#3a3a3a"/>
<rect x="388.95" y="164.75" width="2.9" height="2.9" fill="#3a3a3a"/>
<rect x="401.50" y="162.55" width="2.9" height="2.9" fill="#3a3a3a"/>
<rect x="414.05" y="160.15" width="2.9" height="2.9" fill="#3a3a3a"/>
<rect x="426.60" y="157.55" width="2.9" height="2.9" fill="#3a3a3a"/>
<rect x="439.15" y="154.85" width="2.9" height="2.9" fill="#3a3a3a"/>
<rect x="451.70" y="152.05" width="2.9" height="2.9" fill="#3a3a3a"/>
<rect x="464.25" y="150.55" width="2.9" height="2.9" fill="#3a3a3a"/>
<rect x="476.80" y="161.85" width="2.9" height="2.9" fill="#3a3a3a"/>
<rect x="489.35" y="144.45" width="2.9" height="2.9" fill="#3a3a3a"/>
<rect x="501.90" y="136.75" width="2.9" height="2.9" fill="#3a3a3a"/>
<rect x="514.45" y="132.35" width="2.9" height="2.9" fill="#3a3a3a"/>
<rect x="527.00" y="132.35" width="2.9" height="2.9" fill="#3a3a3a"/>
<rect x="539.55" y="124.35" width="2.9" height="2.9" fill="#3a3a3a"/>
<polyline points="365.30,179.00 377.85,174.90 390.40,171.00 402.95,167.20 415.50,164.00 428.05,159.00 440.60,156.10 453.15,152.80 465.70,150.70 478.25,148.50 490.80,149.10 503.35,168.30 515.90,133.80 528.45,134.50 541.00,126.60" fill="none" stroke="#ff6464" stroke-width="1" stroke-linejoin="round"/>
<circle cx="365.30" cy="179.00" r="1.7" fill="#ff2a2a"/>
<circle cx="377.85" cy="174.90" r="1.7" fill="#ff2a2a"/>
<circle cx="390.40" cy="171.00" r="1.7" fill="#ff2a2a"/>
<circle cx="402.95" cy="167.20" r="1.7" fill="#ff2a2a"/>
<circle cx="415.50" cy="164.00" r="1.7" fill="#ff2a2a"/>
<circle cx="428.05" cy="159.00" r="1.7" fill="#ff2a2a"/>
<circle cx="440.60" cy="156.10" r="1.7" fill="#ff2a2a"/>
<circle cx="453.15" cy="152.80" r="1.7" fill="#ff2a2a"/>
<circle cx="465.70" cy="150.70" r="1.7" fill="#ff2a2a"/>
<circle cx="478.25" cy="148.50" r="1.7" fill="#ff2a2a"/>
<circle cx="490.80" cy="149.10" r="1.7" fill="#ff2a2a"/>
<circle cx="503.35" cy="168.30" r="1.7" fill="#ff2a2a"/>
<circle cx="515.90" cy="133.80" r="1.7" fill="#ff2a2a"/>
<circle cx="528.45" cy="134.50" r="1.7" fill="#ff2a2a"/>
<circle cx="541.00" cy="126.60" r="1.7" fill="#ff2a2a"/>
<polyline points="390.40,180.80 402.95,173.80 415.50,170.30 428.05,168.80 440.60,161.80 453.15,155.70 465.70,149.30 478.25,144.30 490.80,140.40 503.35,135.60 515.90,133.20 528.45,135.60 541.00,131.70" fill="none" stroke="#3888e8" stroke-width="1" stroke-linejoin="round"/>
<polygon points="390.40,178.70 392.40,182.20 388.40,182.20" fill="#1662d6"/>
<polygon points="402.95,171.70 404.95,175.20 400.95,175.20" fill="#1662d6"/>
<polygon points="415.50,168.20 417.50,171.70 413.50,171.70" fill="#1662d6"/>
<polygon points="428.05,166.70 430.05,170.20 426.05,170.20" fill="#1662d6"/>
<polygon points="440.60,159.70 442.60,163.20 438.60,163.20" fill="#1662d6"/>
<polygon points="453.15,153.60 455.15,157.10 451.15,157.10" fill="#1662d6"/>
<polygon points="465.70,147.20 467.70,150.70 463.70,150.70" fill="#1662d6"/>
<polygon points="478.25,142.20 480.25,145.70 476.25,145.70" fill="#1662d6"/>
<polygon points="490.80,138.30 492.80,141.80 488.80,141.80" fill="#1662d6"/>
<polygon points="503.35,133.50 505.35,137.00 501.35,137.00" fill="#1662d6"/>
<polygon points="515.90,131.10 517.90,134.60 513.90,134.60" fill="#1662d6"/>
<polygon points="528.45,133.50 530.45,137.00 526.45,137.00" fill="#1662d6"/>
<polygon points="541.00,129.60 543.00,133.10 539.00,133.10" fill="#1662d6"/>
<polyline points="315.10,83.30 327.65,80.70 340.20,80.00 352.75,79.50 365.30,79.40 377.85,79.40 390.40,79.10 402.95,78.80 415.50,78.90 428.05,78.60 440.60,78.90 453.15,78.40 465.70,78.40 478.25,78.40 490.80,78.90 503.35,77.60 515.90,77.60 528.45,77.50 541.00,77.30" fill="none" stroke="#32b77a" stroke-width="1" stroke-linejoin="round"/>
<polygon points="327.65,82.80 329.65,79.30 325.65,79.30" fill="#0f9a55"/>
<polygon points="340.20,82.10 342.20,78.60 338.20,78.60" fill="#0f9a55"/>
<polygon points="352.75,81.60 354.75,78.10 350.75,78.10" fill="#0f9a55"/>
<polygon points="365.30,81.50 367.30,78.00 363.30,78.00" fill="#0f9a55"/>
<polygon points="377.85,81.50 379.85,78.00 375.85,78.00" fill="#0f9a55"/>
<polygon points="390.40,81.20 392.40,77.70 388.40,77.70" fill="#0f9a55"/>
<polygon points="402.95,80.90 404.95,77.40 400.95,77.40" fill="#0f9a55"/>
<polygon points="415.50,81.00 417.50,77.50 413.50,77.50" fill="#0f9a55"/>
<polygon points="428.05,80.70 430.05,77.20 426.05,77.20" fill="#0f9a55"/>
<polygon points="440.60,81.00 442.60,77.50 438.60,77.50" fill="#0f9a55"/>
<polygon points="453.15,80.50 455.15,77.00 451.15,77.00" fill="#0f9a55"/>
<polygon points="465.70,80.50 467.70,77.00 463.70,77.00" fill="#0f9a55"/>
<polygon points="478.25,80.50 480.25,77.00 476.25,77.00" fill="#0f9a55"/>
<polygon points="490.80,81.00 492.80,77.50 488.80,77.50" fill="#0f9a55"/>
<polygon points="503.35,79.70 505.35,76.20 501.35,76.20" fill="#0f9a55"/>
<polygon points="515.90,79.70 517.90,76.20 513.90,76.20" fill="#0f9a55"/>
<polygon points="528.45,79.60 530.45,76.10 526.45,76.10" fill="#0f9a55"/>
<polygon points="541.00,79.40 543.00,75.90 539.00,75.90" fill="#0f9a55"/>
<polyline points="315.10,62.20 327.65,62.90 340.20,62.30 352.75,62.10 365.30,62.00 377.85,62.00 390.40,62.00 402.95,62.00 415.50,62.00 428.05,61.80 440.60,61.60 453.15,61.60 465.70,61.60 478.25,61.60 490.80,61.60 503.35,61.60 515.90,62.00 528.45,61.40 541.00,61.20" fill="none" stroke="#cf9ff2" stroke-width="1" stroke-linejoin="round"/>
<polygon points="327.65,60.80 329.55,62.90 327.65,65.00 325.75,62.90" fill="#a862e0"/>
<polygon points="340.20,60.20 342.10,62.30 340.20,64.40 338.30,62.30" fill="#a862e0"/>
<polygon points="352.75,60.00 354.65,62.10 352.75,64.20 350.85,62.10" fill="#a862e0"/>
<polygon points="365.30,59.90 367.20,62.00 365.30,64.10 363.40,62.00" fill="#a862e0"/>
<polygon points="377.85,59.90 379.75,62.00 377.85,64.10 375.95,62.00" fill="#a862e0"/>
<polygon points="390.40,59.90 392.30,62.00 390.40,64.10 388.50,62.00" fill="#a862e0"/>
<polygon points="402.95,59.90 404.85,62.00 402.95,64.10 401.05,62.00" fill="#a862e0"/>
<polygon points="415.50,59.90 417.40,62.00 415.50,64.10 413.60,62.00" fill="#a862e0"/>
<polygon points="428.05,59.70 429.95,61.80 428.05,63.90 426.15,61.80" fill="#a862e0"/>
<polygon points="440.60,59.50 442.50,61.60 440.60,63.70 438.70,61.60" fill="#a862e0"/>
<polygon points="453.15,59.50 455.05,61.60 453.15,63.70 451.25,61.60" fill="#a862e0"/>
<polygon points="465.70,59.50 467.60,61.60 465.70,63.70 463.80,61.60" fill="#a862e0"/>
<polygon points="478.25,59.50 480.15,61.60 478.25,63.70 476.35,61.60" fill="#a862e0"/>
<polygon points="490.80,59.50 492.70,61.60 490.80,63.70 488.90,61.60" fill="#a862e0"/>
<polygon points="503.35,59.50 505.25,61.60 503.35,63.70 501.45,61.60" fill="#a862e0"/>
<polygon points="515.90,59.90 517.80,62.00 515.90,64.10 514.00,62.00" fill="#a862e0"/>
<polygon points="528.45,59.30 530.35,61.40 528.45,63.50 526.55,61.40" fill="#a862e0"/>
<polygon points="541.00,59.10 542.90,61.20 541.00,63.30 539.10,61.20" fill="#a862e0"/>
<polyline points="315.10,149.80 327.65,147.60 340.20,145.40 352.75,142.60 365.30,140.60 377.85,138.60 390.40,136.70 402.95,134.90 415.50,133.80 428.05,132.30 440.60,130.60 453.15,129.50 465.70,127.30 478.25,123.60 490.80,120.70 503.35,120.10 515.90,121.80 528.45,112.70 541.00,117.00" fill="none" stroke="#777777" stroke-width="1" stroke-linejoin="round"/>
<rect x="326.15" y="146.10" width="3.0" height="3.0" rx="0.8" fill="#fff" stroke="#777777" stroke-opacity="0.75" stroke-width="0.7"/>
<rect x="338.70" y="143.90" width="3.0" height="3.0" rx="0.8" fill="#fff" stroke="#777777" stroke-opacity="0.75" stroke-width="0.7"/>
<rect x="351.25" y="141.10" width="3.0" height="3.0" rx="0.8" fill="#fff" stroke="#777777" stroke-opacity="0.75" stroke-width="0.7"/>
<rect x="363.80" y="139.10" width="3.0" height="3.0" rx="0.8" fill="#fff" stroke="#777777" stroke-opacity="0.75" stroke-width="0.7"/>
<rect x="376.35" y="137.10" width="3.0" height="3.0" rx="0.8" fill="#fff" stroke="#777777" stroke-opacity="0.75" stroke-width="0.7"/>
<rect x="388.90" y="135.20" width="3.0" height="3.0" rx="0.8" fill="#fff" stroke="#777777" stroke-opacity="0.75" stroke-width="0.7"/>
<rect x="401.45" y="133.40" width="3.0" height="3.0" rx="0.8" fill="#fff" stroke="#777777" stroke-opacity="0.75" stroke-width="0.7"/>
<rect x="414.00" y="132.30" width="3.0" height="3.0" rx="0.8" fill="#fff" stroke="#777777" stroke-opacity="0.75" stroke-width="0.7"/>
<rect x="426.55" y="130.80" width="3.0" height="3.0" rx="0.8" fill="#fff" stroke="#777777" stroke-opacity="0.75" stroke-width="0.7"/>
<rect x="439.10" y="129.10" width="3.0" height="3.0" rx="0.8" fill="#fff" stroke="#777777" stroke-opacity="0.75" stroke-width="0.7"/>
<rect x="451.65" y="128.00" width="3.0" height="3.0" rx="0.8" fill="#fff" stroke="#777777" stroke-opacity="0.75" stroke-width="0.7"/>
<rect x="464.20" y="125.80" width="3.0" height="3.0" rx="0.8" fill="#fff" stroke="#777777" stroke-opacity="0.75" stroke-width="0.7"/>
<rect x="476.75" y="122.10" width="3.0" height="3.0" rx="0.8" fill="#fff" stroke="#777777" stroke-opacity="0.75" stroke-width="0.7"/>
<rect x="489.30" y="119.20" width="3.0" height="3.0" rx="0.8" fill="#fff" stroke="#777777" stroke-opacity="0.75" stroke-width="0.7"/>
<rect x="501.85" y="118.60" width="3.0" height="3.0" rx="0.8" fill="#fff" stroke="#777777" stroke-opacity="0.75" stroke-width="0.7"/>
<rect x="514.40" y="120.30" width="3.0" height="3.0" rx="0.8" fill="#fff" stroke="#777777" stroke-opacity="0.75" stroke-width="0.7"/>
<rect x="526.95" y="111.20" width="3.0" height="3.0" rx="0.8" fill="#fff" stroke="#777777" stroke-opacity="0.75" stroke-width="0.7"/>
<rect x="539.50" y="115.50" width="3.0" height="3.0" rx="0.8" fill="#fff" stroke="#777777" stroke-opacity="0.75" stroke-width="0.7"/>
<polyline points="315.10,146.90 327.65,145.40 340.20,143.00 352.75,140.60 365.30,138.60 377.85,136.50 390.40,134.30 402.95,132.10 415.50,129.90 428.05,127.90 440.60,125.80 453.15,123.60 465.70,121.40 478.25,119.20 490.80,116.40 503.35,114.60 515.90,113.50 528.45,108.30 541.00,109.20" fill="none" stroke="#ff6464" stroke-width="1" stroke-linejoin="round"/>
<rect x="326.15" y="143.90" width="3.0" height="3.0" rx="0.8" fill="#fff" stroke="#ff6464" stroke-opacity="0.75" stroke-width="0.7"/>
<rect x="338.70" y="141.50" width="3.0" height="3.0" rx="0.8" fill="#fff" stroke="#ff6464" stroke-opacity="0.75" stroke-width="0.7"/>
<rect x="351.25" y="139.10" width="3.0" height="3.0" rx="0.8" fill="#fff" stroke="#ff6464" stroke-opacity="0.75" stroke-width="0.7"/>
<rect x="363.80" y="137.10" width="3.0" height="3.0" rx="0.8" fill="#fff" stroke="#ff6464" stroke-opacity="0.75" stroke-width="0.7"/>
<rect x="376.35" y="135.00" width="3.0" height="3.0" rx="0.8" fill="#fff" stroke="#ff6464" stroke-opacity="0.75" stroke-width="0.7"/>
<rect x="388.90" y="132.80" width="3.0" height="3.0" rx="0.8" fill="#fff" stroke="#ff6464" stroke-opacity="0.75" stroke-width="0.7"/>
<rect x="401.45" y="130.60" width="3.0" height="3.0" rx="0.8" fill="#fff" stroke="#ff6464" stroke-opacity="0.75" stroke-width="0.7"/>
<rect x="414.00" y="128.40" width="3.0" height="3.0" rx="0.8" fill="#fff" stroke="#ff6464" stroke-opacity="0.75" stroke-width="0.7"/>
<rect x="426.55" y="126.40" width="3.0" height="3.0" rx="0.8" fill="#fff" stroke="#ff6464" stroke-opacity="0.75" stroke-width="0.7"/>
<rect x="439.10" y="124.30" width="3.0" height="3.0" rx="0.8" fill="#fff" stroke="#ff6464" stroke-opacity="0.75" stroke-width="0.7"/>
<rect x="451.65" y="122.10" width="3.0" height="3.0" rx="0.8" fill="#fff" stroke="#ff6464" stroke-opacity="0.75" stroke-width="0.7"/>
<rect x="464.20" y="119.90" width="3.0" height="3.0" rx="0.8" fill="#fff" stroke="#ff6464" stroke-opacity="0.75" stroke-width="0.7"/>
<rect x="476.75" y="117.70" width="3.0" height="3.0" rx="0.8" fill="#fff" stroke="#ff6464" stroke-opacity="0.75" stroke-width="0.7"/>
<rect x="489.30" y="114.90" width="3.0" height="3.0" rx="0.8" fill="#fff" stroke="#ff6464" stroke-opacity="0.75" stroke-width="0.7"/>
<rect x="501.85" y="113.10" width="3.0" height="3.0" rx="0.8" fill="#fff" stroke="#ff6464" stroke-opacity="0.75" stroke-width="0.7"/>
<rect x="514.40" y="112.00" width="3.0" height="3.0" rx="0.8" fill="#fff" stroke="#ff6464" stroke-opacity="0.75" stroke-width="0.7"/>
<rect x="526.95" y="106.80" width="3.0" height="3.0" rx="0.8" fill="#fff" stroke="#ff6464" stroke-opacity="0.75" stroke-width="0.7"/>
<rect x="539.50" y="107.70" width="3.0" height="3.0" rx="0.8" fill="#fff" stroke="#ff6464" stroke-opacity="0.75" stroke-width="0.7"/>
<polyline points="315.10,160.00 327.65,158.50 340.20,156.30 352.75,153.90 365.30,152.00 377.85,149.80 390.40,147.60 402.95,145.20 415.50,142.60 428.05,139.50 440.60,136.00 453.15,132.80 465.70,128.80 478.25,125.80 490.80,123.60 503.35,125.10 515.90,132.30 528.45,128.40 541.00,129.50" fill="none" stroke="#3888e8" stroke-width="1" stroke-linejoin="round"/>
<rect x="326.15" y="157.00" width="3.0" height="3.0" rx="0.8" fill="#fff" stroke="#3888e8" stroke-opacity="0.75" stroke-width="0.7"/>
<rect x="338.70" y="154.80" width="3.0" height="3.0" rx="0.8" fill="#fff" stroke="#3888e8" stroke-opacity="0.75" stroke-width="0.7"/>
<rect x="351.25" y="152.40" width="3.0" height="3.0" rx="0.8" fill="#fff" stroke="#3888e8" stroke-opacity="0.75" stroke-width="0.7"/>
<rect x="363.80" y="150.50" width="3.0" height="3.0" rx="0.8" fill="#fff" stroke="#3888e8" stroke-opacity="0.75" stroke-width="0.7"/>
<rect x="376.35" y="148.30" width="3.0" height="3.0" rx="0.8" fill="#fff" stroke="#3888e8" stroke-opacity="0.75" stroke-width="0.7"/>
<rect x="388.90" y="146.10" width="3.0" height="3.0" rx="0.8" fill="#fff" stroke="#3888e8" stroke-opacity="0.75" stroke-width="0.7"/>
<rect x="401.45" y="143.70" width="3.0" height="3.0" rx="0.8" fill="#fff" stroke="#3888e8" stroke-opacity="0.75" stroke-width="0.7"/>
<rect x="414.00" y="141.10" width="3.0" height="3.0" rx="0.8" fill="#fff" stroke="#3888e8" stroke-opacity="0.75" stroke-width="0.7"/>
<rect x="426.55" y="138.00" width="3.0" height="3.0" rx="0.8" fill="#fff" stroke="#3888e8" stroke-opacity="0.75" stroke-width="0.7"/>
<rect x="439.10" y="134.50" width="3.0" height="3.0" rx="0.8" fill="#fff" stroke="#3888e8" stroke-opacity="0.75" stroke-width="0.7"/>
<rect x="451.65" y="131.30" width="3.0" height="3.0" rx="0.8" fill="#fff" stroke="#3888e8" stroke-opacity="0.75" stroke-width="0.7"/>
<rect x="464.20" y="127.30" width="3.0" height="3.0" rx="0.8" fill="#fff" stroke="#3888e8" stroke-opacity="0.75" stroke-width="0.7"/>
<rect x="476.75" y="124.30" width="3.0" height="3.0" rx="0.8" fill="#fff" stroke="#3888e8" stroke-opacity="0.75" stroke-width="0.7"/>
<rect x="489.30" y="122.10" width="3.0" height="3.0" rx="0.8" fill="#fff" stroke="#3888e8" stroke-opacity="0.75" stroke-width="0.7"/>
<rect x="501.85" y="123.60" width="3.0" height="3.0" rx="0.8" fill="#fff" stroke="#3888e8" stroke-opacity="0.75" stroke-width="0.7"/>
<rect x="514.40" y="130.80" width="3.0" height="3.0" rx="0.8" fill="#fff" stroke="#3888e8" stroke-opacity="0.75" stroke-width="0.7"/>
<rect x="526.95" y="126.90" width="3.0" height="3.0" rx="0.8" fill="#fff" stroke="#3888e8" stroke-opacity="0.75" stroke-width="0.7"/>
<rect x="539.50" y="128.00" width="3.0" height="3.0" rx="0.8" fill="#fff" stroke="#3888e8" stroke-opacity="0.75" stroke-width="0.7"/>
<polyline points="315.10,66.30 327.65,68.30 340.20,69.50 352.75,69.60 365.30,67.50 377.85,66.80 390.40,69.00 402.95,69.50 415.50,68.40 428.05,69.60 440.60,66.80 453.15,69.70 465.70,69.70 478.25,68.60 490.80,64.20 503.35,70.10 515.90,69.70 528.45,68.40 541.00,67.50" fill="none" stroke="#32b77a" stroke-width="1" stroke-linejoin="round"/>
<rect x="326.15" y="66.80" width="3.0" height="3.0" rx="0.8" fill="#fff" stroke="#32b77a" stroke-opacity="0.75" stroke-width="0.7"/>
<rect x="338.70" y="68.00" width="3.0" height="3.0" rx="0.8" fill="#fff" stroke="#32b77a" stroke-opacity="0.75" stroke-width="0.7"/>
<rect x="351.25" y="68.10" width="3.0" height="3.0" rx="0.8" fill="#fff" stroke="#32b77a" stroke-opacity="0.75" stroke-width="0.7"/>
<rect x="363.80" y="66.00" width="3.0" height="3.0" rx="0.8" fill="#fff" stroke="#32b77a" stroke-opacity="0.75" stroke-width="0.7"/>
<rect x="376.35" y="65.30" width="3.0" height="3.0" rx="0.8" fill="#fff" stroke="#32b77a" stroke-opacity="0.75" stroke-width="0.7"/>
<rect x="388.90" y="67.50" width="3.0" height="3.0" rx="0.8" fill="#fff" stroke="#32b77a" stroke-opacity="0.75" stroke-width="0.7"/>
<rect x="401.45" y="68.00" width="3.0" height="3.0" rx="0.8" fill="#fff" stroke="#32b77a" stroke-opacity="0.75" stroke-width="0.7"/>
<rect x="414.00" y="66.90" width="3.0" height="3.0" rx="0.8" fill="#fff" stroke="#32b77a" stroke-opacity="0.75" stroke-width="0.7"/>
<rect x="426.55" y="68.10" width="3.0" height="3.0" rx="0.8" fill="#fff" stroke="#32b77a" stroke-opacity="0.75" stroke-width="0.7"/>
<rect x="439.10" y="65.30" width="3.0" height="3.0" rx="0.8" fill="#fff" stroke="#32b77a" stroke-opacity="0.75" stroke-width="0.7"/>
<rect x="451.65" y="68.20" width="3.0" height="3.0" rx="0.8" fill="#fff" stroke="#32b77a" stroke-opacity="0.75" stroke-width="0.7"/>
<rect x="464.20" y="68.20" width="3.0" height="3.0" rx="0.8" fill="#fff" stroke="#32b77a" stroke-opacity="0.75" stroke-width="0.7"/>
<rect x="476.75" y="67.10" width="3.0" height="3.0" rx="0.8" fill="#fff" stroke="#32b77a" stroke-opacity="0.75" stroke-width="0.7"/>
<rect x="489.30" y="62.70" width="3.0" height="3.0" rx="0.8" fill="#fff" stroke="#32b77a" stroke-opacity="0.75" stroke-width="0.7"/>
<rect x="501.85" y="68.60" width="3.0" height="3.0" rx="0.8" fill="#fff" stroke="#32b77a" stroke-opacity="0.75" stroke-width="0.7"/>
<rect x="514.40" y="68.20" width="3.0" height="3.0" rx="0.8" fill="#fff" stroke="#32b77a" stroke-opacity="0.75" stroke-width="0.7"/>
<rect x="526.95" y="66.90" width="3.0" height="3.0" rx="0.8" fill="#fff" stroke="#32b77a" stroke-opacity="0.75" stroke-width="0.7"/>
<rect x="539.50" y="66.00" width="3.0" height="3.0" rx="0.8" fill="#fff" stroke="#32b77a" stroke-opacity="0.75" stroke-width="0.7"/>
<polyline points="315.10,57.30 327.65,60.60 340.20,62.40 352.75,63.00 365.30,63.00 377.85,63.00 390.40,63.00 402.95,63.00 415.50,63.00 428.05,63.00 440.60,62.80 453.15,62.60 465.70,62.40 478.25,61.80 490.80,60.70 503.35,60.30 515.90,59.20 528.45,58.80 541.00,58.10" fill="none" stroke="#cf9ff2" stroke-width="1" stroke-linejoin="round"/>
<rect x="326.15" y="59.10" width="3.0" height="3.0" rx="0.8" fill="#fff" stroke="#cf9ff2" stroke-opacity="0.75" stroke-width="0.7"/>
<rect x="338.70" y="60.90" width="3.0" height="3.0" rx="0.8" fill="#fff" stroke="#cf9ff2" stroke-opacity="0.75" stroke-width="0.7"/>
<rect x="351.25" y="61.50" width="3.0" height="3.0" rx="0.8" fill="#fff" stroke="#cf9ff2" stroke-opacity="0.75" stroke-width="0.7"/>
<rect x="363.80" y="61.50" width="3.0" height="3.0" rx="0.8" fill="#fff" stroke="#cf9ff2" stroke-opacity="0.75" stroke-width="0.7"/>
<rect x="376.35" y="61.50" width="3.0" height="3.0" rx="0.8" fill="#fff" stroke="#cf9ff2" stroke-opacity="0.75" stroke-width="0.7"/>
<rect x="388.90" y="61.50" width="3.0" height="3.0" rx="0.8" fill="#fff" stroke="#cf9ff2" stroke-opacity="0.75" stroke-width="0.7"/>
<rect x="401.45" y="61.50" width="3.0" height="3.0" rx="0.8" fill="#fff" stroke="#cf9ff2" stroke-opacity="0.75" stroke-width="0.7"/>
<rect x="414.00" y="61.50" width="3.0" height="3.0" rx="0.8" fill="#fff" stroke="#cf9ff2" stroke-opacity="0.75" stroke-width="0.7"/>
<rect x="426.55" y="61.50" width="3.0" height="3.0" rx="0.8" fill="#fff" stroke="#cf9ff2" stroke-opacity="0.75" stroke-width="0.7"/>
<rect x="439.10" y="61.30" width="3.0" height="3.0" rx="0.8" fill="#fff" stroke="#cf9ff2" stroke-opacity="0.75" stroke-width="0.7"/>
<rect x="451.65" y="61.10" width="3.0" height="3.0" rx="0.8" fill="#fff" stroke="#cf9ff2" stroke-opacity="0.75" stroke-width="0.7"/>
<rect x="464.20" y="60.90" width="3.0" height="3.0" rx="0.8" fill="#fff" stroke="#cf9ff2" stroke-opacity="0.75" stroke-width="0.7"/>
<rect x="476.75" y="60.30" width="3.0" height="3.0" rx="0.8" fill="#fff" stroke="#cf9ff2" stroke-opacity="0.75" stroke-width="0.7"/>
<rect x="489.30" y="59.20" width="3.0" height="3.0" rx="0.8" fill="#fff" stroke="#cf9ff2" stroke-opacity="0.75" stroke-width="0.7"/>
<rect x="501.85" y="58.80" width="3.0" height="3.0" rx="0.8" fill="#fff" stroke="#cf9ff2" stroke-opacity="0.75" stroke-width="0.7"/>
<rect x="514.40" y="57.70" width="3.0" height="3.0" rx="0.8" fill="#fff" stroke="#cf9ff2" stroke-opacity="0.75" stroke-width="0.7"/>
<rect x="526.95" y="57.30" width="3.0" height="3.0" rx="0.8" fill="#fff" stroke="#cf9ff2" stroke-opacity="0.75" stroke-width="0.7"/>
<rect x="539.50" y="56.60" width="3.0" height="3.0" rx="0.8" fill="#fff" stroke="#cf9ff2" stroke-opacity="0.75" stroke-width="0.7"/>
</g>
<text x="311.00" y="186.05" font-size="9.6" text-anchor="end" >10<tspan font-size="5.3" dx="0.3" dy="-4.4">−5</tspan></text>
<text x="311.00" y="169.95" font-size="9.6" text-anchor="end" >10<tspan font-size="5.3" dx="0.3" dy="-4.4">−4</tspan></text>
<text x="311.00" y="153.85" font-size="9.6" text-anchor="end" >0.001</text>
<text x="311.00" y="137.75" font-size="9.6" text-anchor="end" >0.01</text>
<text x="311.00" y="121.65" font-size="9.6" text-anchor="end" >0.1</text>
<text x="311.00" y="105.55" font-size="9.6" text-anchor="end" >1</text>
<text x="311.00" y="89.45" font-size="9.6" text-anchor="end" >10</text>
<text x="311.00" y="73.35" font-size="9.6" text-anchor="end" >100</text>
<text x="311.00" y="57.25" font-size="9.6" text-anchor="end" >1000</text>
<text x="311.00" y="41.15" font-size="9.6" text-anchor="end" >10<tspan font-size="5.3" dx="0.3" dy="-4.4">4</tspan></text>
<text x="311.00" y="25.05" font-size="9.6" text-anchor="end" >10<tspan font-size="5.3" dx="0.3" dy="-4.4">5</tspan></text>
<text x="315.00" y="197.60" font-size="9.0" text-anchor="middle" >0.01</text>
<text x="428.40" y="197.60" font-size="9.0" text-anchor="middle" >0.1</text>
<text x="541.80" y="197.60" font-size="9.0" text-anchor="middle" >1</text>
<text x="428.40" y="215.00" font-size="10.2" text-anchor="middle" >f (hz)</text>
<text x="0" y="0" font-size="10.9" text-anchor="middle" transform="translate(285.00,98.20) rotate(-90)">G'G"(Pa)</text>
<rect x="337.10" y="11.50" width="204.70" height="35.90" fill="#fff" stroke="#c0c0c0" stroke-width="1.1"/>
<line x1="336.60" y1="47.40" x2="541.80" y2="47.40" stroke="#999" stroke-width="1"/>
<line x1="337.40" y1="18.40" x2="358.50" y2="18.40" stroke="#777777" stroke-width="1"/>
<rect x="347.15" y="16.95" width="2.9" height="2.9" fill="#3a3a3a"/>
<text x="358.60" y="21.20" font-size="9.2" text-anchor="start" >G'</text>
<line x1="368.50" y1="18.40" x2="389.50" y2="18.40" stroke="#777777" stroke-width="1"/>
<rect x="377.30" y="16.90" width="3.0" height="3.0" rx="0.8" fill="#fff" stroke="#777777" stroke-opacity="0.75" stroke-width="0.7"/>
<text x="391.20" y="21.20" font-size="9.2" text-anchor="start" >G" 0.1wt%</text>
<line x1="436.00" y1="18.40" x2="457.10" y2="18.40" stroke="#ff6464" stroke-width="1"/>
<circle cx="447.20" cy="18.40" r="1.7" fill="#ff2a2a"/>
<text x="457.20" y="21.20" font-size="9.2" text-anchor="start" >G'</text>
<line x1="467.10" y1="18.40" x2="488.10" y2="18.40" stroke="#ff6464" stroke-width="1"/>
<rect x="475.90" y="16.90" width="3.0" height="3.0" rx="0.8" fill="#fff" stroke="#ff6464" stroke-opacity="0.75" stroke-width="0.7"/>
<text x="489.80" y="21.20" font-size="9.2" text-anchor="start" >G" 0.25wt%</text>
<line x1="337.40" y1="29.85" x2="358.50" y2="29.85" stroke="#3888e8" stroke-width="1"/>
<polygon points="348.60,27.75 350.60,31.25 346.60,31.25" fill="#1662d6"/>
<text x="358.60" y="32.65" font-size="9.2" text-anchor="start" >G'</text>
<line x1="368.50" y1="29.85" x2="389.50" y2="29.85" stroke="#3888e8" stroke-width="1"/>
<rect x="377.30" y="28.35" width="3.0" height="3.0" rx="0.8" fill="#fff" stroke="#3888e8" stroke-opacity="0.75" stroke-width="0.7"/>
<text x="391.20" y="32.65" font-size="9.2" text-anchor="start" >G" 0.5wt%</text>
<line x1="436.00" y1="29.85" x2="457.10" y2="29.85" stroke="#32b77a" stroke-width="1"/>
<polygon points="447.20,31.95 449.20,28.45 445.20,28.45" fill="#0f9a55"/>
<text x="457.20" y="32.65" font-size="9.2" text-anchor="start" >G'</text>
<line x1="467.10" y1="29.85" x2="488.10" y2="29.85" stroke="#32b77a" stroke-width="1"/>
<rect x="475.90" y="28.35" width="3.0" height="3.0" rx="0.8" fill="#fff" stroke="#32b77a" stroke-opacity="0.75" stroke-width="0.7"/>
<text x="489.80" y="32.65" font-size="9.2" text-anchor="start" >G" 1wt%</text>
<line x1="337.40" y1="41.30" x2="358.50" y2="41.30" stroke="#cf9ff2" stroke-width="1"/>
<polygon points="348.60,39.20 350.50,41.30 348.60,43.40 346.70,41.30" fill="#a862e0"/>
<text x="358.60" y="44.10" font-size="9.2" text-anchor="start" >G'</text>
<line x1="368.50" y1="41.30" x2="389.50" y2="41.30" stroke="#cf9ff2" stroke-width="1"/>
<rect x="377.30" y="39.80" width="3.0" height="3.0" rx="0.8" fill="#fff" stroke="#cf9ff2" stroke-opacity="0.75" stroke-width="0.7"/>
<text x="391.20" y="44.10" font-size="9.2" text-anchor="start" >G" 2wt%</text>
<line x1="315.00" y1="11.50" x2="541.80" y2="11.50" stroke="#7a7a7a" stroke-width="1"/>
<line x1="541.80" y1="11.00" x2="541.80" y2="187.00" stroke="#a8a8a8" stroke-width="1.3"/>
<line x1="315.00" y1="186.50" x2="542.40" y2="186.50" stroke="#5a5a5a" stroke-width="1"/>
<line x1="315.00" y1="11.00" x2="315.00" y2="187.00" stroke="#939393" stroke-width="1.3"/>
<line x1="314.60" y1="185.82" x2="316.60" y2="185.82" stroke="#666" stroke-width="0.8"/>
<line x1="314.60" y1="184.74" x2="316.60" y2="184.74" stroke="#666" stroke-width="0.8"/>
<line x1="314.60" y1="183.81" x2="316.60" y2="183.81" stroke="#666" stroke-width="0.8"/>
<line x1="314.60" y1="182.99" x2="316.60" y2="182.99" stroke="#666" stroke-width="0.8"/>
<line x1="314.60" y1="182.25" x2="317.80" y2="182.25" stroke="#666" stroke-width="0.8"/>
<line x1="314.60" y1="177.40" x2="316.60" y2="177.40" stroke="#666" stroke-width="0.8"/>
<line x1="314.60" y1="174.57" x2="316.60" y2="174.57" stroke="#666" stroke-width="0.8"/>
<line x1="314.60" y1="172.56" x2="316.60" y2="172.56" stroke="#666" stroke-width="0.8"/>
<line x1="314.60" y1="171.00" x2="316.60" y2="171.00" stroke="#666" stroke-width="0.8"/>
<line x1="314.60" y1="169.72" x2="316.60" y2="169.72" stroke="#666" stroke-width="0.8"/>
<line x1="314.60" y1="168.64" x2="316.60" y2="168.64" stroke="#666" stroke-width="0.8"/>
<line x1="314.60" y1="167.71" x2="316.60" y2="167.71" stroke="#666" stroke-width="0.8"/>
<line x1="314.60" y1="166.89" x2="316.60" y2="166.89" stroke="#666" stroke-width="0.8"/>
<line x1="314.60" y1="166.15" x2="317.80" y2="166.15" stroke="#666" stroke-width="0.8"/>
<line x1="314.60" y1="161.30" x2="316.60" y2="161.30" stroke="#666" stroke-width="0.8"/>
<line x1="314.60" y1="158.47" x2="316.60" y2="158.47" stroke="#666" stroke-width="0.8"/>
<line x1="314.60" y1="156.46" x2="316.60" y2="156.46" stroke="#666" stroke-width="0.8"/>
<line x1="314.60" y1="154.90" x2="316.60" y2="154.90" stroke="#666" stroke-width="0.8"/>
<line x1="314.60" y1="153.62" x2="316.60" y2="153.62" stroke="#666" stroke-width="0.8"/>
<line x1="314.60" y1="152.54" x2="316.60" y2="152.54" stroke="#666" stroke-width="0.8"/>
<line x1="314.60" y1="151.61" x2="316.60" y2="151.61" stroke="#666" stroke-width="0.8"/>
<line x1="314.60" y1="150.79" x2="316.60" y2="150.79" stroke="#666" stroke-width="0.8"/>
<line x1="314.60" y1="150.05" x2="317.80" y2="150.05" stroke="#666" stroke-width="0.8"/>
<line x1="314.60" y1="145.20" x2="316.60" y2="145.20" stroke="#666" stroke-width="0.8"/>
<line x1="314.60" y1="142.37" x2="316.60" y2="142.37" stroke="#666" stroke-width="0.8"/>
<line x1="314.60" y1="140.36" x2="316.60" y2="140.36" stroke="#666" stroke-width="0.8"/>
<line x1="314.60" y1="138.80" x2="316.60" y2="138.80" stroke="#666" stroke-width="0.8"/>
<line x1="314.60" y1="137.52" x2="316.60" y2="137.52" stroke="#666" stroke-width="0.8"/>
<line x1="314.60" y1="136.44" x2="316.60" y2="136.44" stroke="#666" stroke-width="0.8"/>
<line x1="314.60" y1="135.51" x2="316.60" y2="135.51" stroke="#666" stroke-width="0.8"/>
<line x1="314.60" y1="134.69" x2="316.60" y2="134.69" stroke="#666" stroke-width="0.8"/>
<line x1="314.60" y1="133.95" x2="317.80" y2="133.95" stroke="#666" stroke-width="0.8"/>
<line x1="314.60" y1="129.10" x2="316.60" y2="129.10" stroke="#666" stroke-width="0.8"/>
<line x1="314.60" y1="126.27" x2="316.60" y2="126.27" stroke="#666" stroke-width="0.8"/>
<line x1="314.60" y1="124.26" x2="316.60" y2="124.26" stroke="#666" stroke-width="0.8"/>
<line x1="314.60" y1="122.70" x2="316.60" y2="122.70" stroke="#666" stroke-width="0.8"/>
<line x1="314.60" y1="121.42" x2="316.60" y2="121.42" stroke="#666" stroke-width="0.8"/>
<line x1="314.60" y1="120.34" x2="316.60" y2="120.34" stroke="#666" stroke-width="0.8"/>
<line x1="314.60" y1="119.41" x2="316.60" y2="119.41" stroke="#666" stroke-width="0.8"/>
<line x1="314.60" y1="118.59" x2="316.60" y2="118.59" stroke="#666" stroke-width="0.8"/>
<line x1="314.60" y1="117.85" x2="317.80" y2="117.85" stroke="#666" stroke-width="0.8"/>
<line x1="314.60" y1="113.00" x2="316.60" y2="113.00" stroke="#666" stroke-width="0.8"/>
<line x1="314.60" y1="110.17" x2="316.60" y2="110.17" stroke="#666" stroke-width="0.8"/>
<line x1="314.60" y1="108.16" x2="316.60" y2="108.16" stroke="#666" stroke-width="0.8"/>
<line x1="314.60" y1="106.60" x2="316.60" y2="106.60" stroke="#666" stroke-width="0.8"/>
<line x1="314.60" y1="105.32" x2="316.60" y2="105.32" stroke="#666" stroke-width="0.8"/>
<line x1="314.60" y1="104.24" x2="316.60" y2="104.24" stroke="#666" stroke-width="0.8"/>
<line x1="314.60" y1="103.31" x2="316.60" y2="103.31" stroke="#666" stroke-width="0.8"/>
<line x1="314.60" y1="102.49" x2="316.60" y2="102.49" stroke="#666" stroke-width="0.8"/>
<line x1="314.60" y1="101.75" x2="317.80" y2="101.75" stroke="#666" stroke-width="0.8"/>
<line x1="314.60" y1="96.90" x2="316.60" y2="96.90" stroke="#666" stroke-width="0.8"/>
<line x1="314.60" y1="94.07" x2="316.60" y2="94.07" stroke="#666" stroke-width="0.8"/>
<line x1="314.60" y1="92.06" x2="316.60" y2="92.06" stroke="#666" stroke-width="0.8"/>
<line x1="314.60" y1="90.50" x2="316.60" y2="90.50" stroke="#666" stroke-width="0.8"/>
<line x1="314.60" y1="89.22" x2="316.60" y2="89.22" stroke="#666" stroke-width="0.8"/>
<line x1="314.60" y1="88.14" x2="316.60" y2="88.14" stroke="#666" stroke-width="0.8"/>
<line x1="314.60" y1="87.21" x2="316.60" y2="87.21" stroke="#666" stroke-width="0.8"/>
<line x1="314.60" y1="86.39" x2="316.60" y2="86.39" stroke="#666" stroke-width="0.8"/>
<line x1="314.60" y1="85.65" x2="317.80" y2="85.65" stroke="#666" stroke-width="0.8"/>
<line x1="314.60" y1="80.80" x2="316.60" y2="80.80" stroke="#666" stroke-width="0.8"/>
<line x1="314.60" y1="77.97" x2="316.60" y2="77.97" stroke="#666" stroke-width="0.8"/>
<line x1="314.60" y1="75.96" x2="316.60" y2="75.96" stroke="#666" stroke-width="0.8"/>
<line x1="314.60" y1="74.40" x2="316.60" y2="74.40" stroke="#666" stroke-width="0.8"/>
<line x1="314.60" y1="73.12" x2="316.60" y2="73.12" stroke="#666" stroke-width="0.8"/>
<line x1="314.60" y1="72.04" x2="316.60" y2="72.04" stroke="#666" stroke-width="0.8"/>
<line x1="314.60" y1="71.11" x2="316.60" y2="71.11" stroke="#666" stroke-width="0.8"/>
<line x1="314.60" y1="70.29" x2="316.60" y2="70.29" stroke="#666" stroke-width="0.8"/>
<line x1="314.60" y1="69.55" x2="317.80" y2="69.55" stroke="#666" stroke-width="0.8"/>
<line x1="314.60" y1="64.70" x2="316.60" y2="64.70" stroke="#666" stroke-width="0.8"/>
<line x1="314.60" y1="61.87" x2="316.60" y2="61.87" stroke="#666" stroke-width="0.8"/>
<line x1="314.60" y1="59.86" x2="316.60" y2="59.86" stroke="#666" stroke-width="0.8"/>
<line x1="314.60" y1="58.30" x2="316.60" y2="58.30" stroke="#666" stroke-width="0.8"/>
<line x1="314.60" y1="57.02" x2="316.60" y2="57.02" stroke="#666" stroke-width="0.8"/>
<line x1="314.60" y1="55.94" x2="316.60" y2="55.94" stroke="#666" stroke-width="0.8"/>
<line x1="314.60" y1="55.01" x2="316.60" y2="55.01" stroke="#666" stroke-width="0.8"/>
<line x1="314.60" y1="54.19" x2="316.60" y2="54.19" stroke="#666" stroke-width="0.8"/>
<line x1="314.60" y1="53.45" x2="317.80" y2="53.45" stroke="#666" stroke-width="0.8"/>
<line x1="314.60" y1="48.60" x2="316.60" y2="48.60" stroke="#666" stroke-width="0.8"/>
<line x1="314.60" y1="45.77" x2="316.60" y2="45.77" stroke="#666" stroke-width="0.8"/>
<line x1="314.60" y1="43.76" x2="316.60" y2="43.76" stroke="#666" stroke-width="0.8"/>
<line x1="314.60" y1="42.20" x2="316.60" y2="42.20" stroke="#666" stroke-width="0.8"/>
<line x1="314.60" y1="40.92" x2="316.60" y2="40.92" stroke="#666" stroke-width="0.8"/>
<line x1="314.60" y1="39.84" x2="316.60" y2="39.84" stroke="#666" stroke-width="0.8"/>
<line x1="314.60" y1="38.91" x2="316.60" y2="38.91" stroke="#666" stroke-width="0.8"/>
<line x1="314.60" y1="38.09" x2="316.60" y2="38.09" stroke="#666" stroke-width="0.8"/>
<line x1="314.60" y1="37.35" x2="317.80" y2="37.35" stroke="#666" stroke-width="0.8"/>
<line x1="314.60" y1="32.50" x2="316.60" y2="32.50" stroke="#666" stroke-width="0.8"/>
<line x1="314.60" y1="29.67" x2="316.60" y2="29.67" stroke="#666" stroke-width="0.8"/>
<line x1="314.60" y1="27.66" x2="316.60" y2="27.66" stroke="#666" stroke-width="0.8"/>
<line x1="314.60" y1="26.10" x2="316.60" y2="26.10" stroke="#666" stroke-width="0.8"/>
<line x1="314.60" y1="24.82" x2="316.60" y2="24.82" stroke="#666" stroke-width="0.8"/>
<line x1="314.60" y1="23.74" x2="316.60" y2="23.74" stroke="#666" stroke-width="0.8"/>
<line x1="314.60" y1="22.81" x2="316.60" y2="22.81" stroke="#666" stroke-width="0.8"/>
<line x1="314.60" y1="21.99" x2="316.60" y2="21.99" stroke="#666" stroke-width="0.8"/>
<line x1="314.60" y1="21.25" x2="317.80" y2="21.25" stroke="#666" stroke-width="0.8"/>
<line x1="314.60" y1="16.40" x2="316.60" y2="16.40" stroke="#666" stroke-width="0.8"/>
<line x1="314.60" y1="13.57" x2="316.60" y2="13.57" stroke="#666" stroke-width="0.8"/>
<line x1="314.60" y1="11.56" x2="316.60" y2="11.56" stroke="#666" stroke-width="0.8"/>
<line x1="315.00" y1="186.50" x2="315.00" y2="183.70" stroke="#666" stroke-width="0.8"/>
<line x1="349.14" y1="186.50" x2="349.14" y2="184.90" stroke="#666" stroke-width="0.8"/>
<line x1="369.11" y1="186.50" x2="369.11" y2="184.90" stroke="#666" stroke-width="0.8"/>
<line x1="383.27" y1="186.50" x2="383.27" y2="184.90" stroke="#666" stroke-width="0.8"/>
<line x1="394.26" y1="186.50" x2="394.26" y2="184.90" stroke="#666" stroke-width="0.8"/>
<line x1="403.24" y1="186.50" x2="403.24" y2="184.90" stroke="#666" stroke-width="0.8"/>
<line x1="410.83" y1="186.50" x2="410.83" y2="184.90" stroke="#666" stroke-width="0.8"/>
<line x1="417.41" y1="186.50" x2="417.41" y2="184.90" stroke="#666" stroke-width="0.8"/>
<line x1="423.21" y1="186.50" x2="423.21" y2="184.90" stroke="#666" stroke-width="0.8"/>
<line x1="428.40" y1="186.50" x2="428.40" y2="183.70" stroke="#666" stroke-width="0.8"/>
<line x1="462.54" y1="186.50" x2="462.54" y2="184.90" stroke="#666" stroke-width="0.8"/>
<line x1="482.51" y1="186.50" x2="482.51" y2="184.90" stroke="#666" stroke-width="0.8"/>
<line x1="496.67" y1="186.50" x2="496.67" y2="184.90" stroke="#666" stroke-width="0.8"/>
<line x1="507.66" y1="186.50" x2="507.66" y2="184.90" stroke="#666" stroke-width="0.8"/>
<line x1="516.64" y1="186.50" x2="516.64" y2="184.90" stroke="#666" stroke-width="0.8"/>
<line x1="524.23" y1="186.50" x2="524.23" y2="184.90" stroke="#666" stroke-width="0.8"/>
<line x1="530.81" y1="186.50" x2="530.81" y2="184.90" stroke="#666" stroke-width="0.8"/>
<line x1="536.61" y1="186.50" x2="536.61" y2="184.90" stroke="#666" stroke-width="0.8"/>
<text x="275.00" y="22.40" font-size="10.5" text-anchor="start" >(b)</text>
<clipPath id="clc"><rect x="45.40" y="217.40" width="226.90" height="176.00"/></clipPath>
<g clip-path="url(#clc)">
<polyline points="95.62,384.20 108.15,380.50 120.68,377.20 133.21,373.50 145.74,370.00 158.27,366.80 170.80,363.50 183.33,360.60 195.86,359.00 208.39,359.00 220.92,357.10 233.45,351.60 245.98,339.70 258.51,340.50 271.04,335.00" fill="none" stroke="#777777" stroke-width="1" stroke-linejoin="round"/>
<rect x="94.17" y="382.75" width="2.9" height="2.9" fill="#3a3a3a"/>
<rect x="106.70" y="379.05" width="2.9" height="2.9" fill="#3a3a3a"/>
<rect x="119.23" y="375.75" width="2.9" height="2.9" fill="#3a3a3a"/>
<rect x="131.76" y="372.05" width="2.9" height="2.9" fill="#3a3a3a"/>
<rect x="144.29" y="368.55" width="2.9" height="2.9" fill="#3a3a3a"/>
<rect x="156.82" y="365.35" width="2.9" height="2.9" fill="#3a3a3a"/>
<rect x="169.35" y="362.05" width="2.9" height="2.9" fill="#3a3a3a"/>
<rect x="181.88" y="359.15" width="2.9" height="2.9" fill="#3a3a3a"/>
<rect x="194.41" y="357.55" width="2.9" height="2.9" fill="#3a3a3a"/>
<rect x="206.94" y="357.55" width="2.9" height="2.9" fill="#3a3a3a"/>
<rect x="219.47" y="355.65" width="2.9" height="2.9" fill="#3a3a3a"/>
<rect x="232.00" y="350.15" width="2.9" height="2.9" fill="#3a3a3a"/>
<rect x="244.53" y="338.25" width="2.9" height="2.9" fill="#3a3a3a"/>
<rect x="257.06" y="339.05" width="2.9" height="2.9" fill="#3a3a3a"/>
<rect x="269.59" y="333.55" width="2.9" height="2.9" fill="#3a3a3a"/>
<polyline points="83.09,387.40 95.62,383.70 108.15,380.10 120.68,376.80 133.21,373.10 145.74,369.70 158.27,366.40 170.80,363.10 183.33,360.20 195.86,358.20 208.39,358.20 220.92,355.60 233.45,351.00 245.98,340.10 258.51,338.10 271.04,334.30" fill="none" stroke="#ff6464" stroke-width="1" stroke-linejoin="round"/>
<circle cx="83.09" cy="387.40" r="1.7" fill="#ff2a2a"/>
<circle cx="95.62" cy="383.70" r="1.7" fill="#ff2a2a"/>
<circle cx="108.15" cy="380.10" r="1.7" fill="#ff2a2a"/>
<circle cx="120.68" cy="376.80" r="1.7" fill="#ff2a2a"/>
<circle cx="133.21" cy="373.10" r="1.7" fill="#ff2a2a"/>
<circle cx="145.74" cy="369.70" r="1.7" fill="#ff2a2a"/>
<circle cx="158.27" cy="366.40" r="1.7" fill="#ff2a2a"/>
<circle cx="170.80" cy="363.10" r="1.7" fill="#ff2a2a"/>
<circle cx="183.33" cy="360.20" r="1.7" fill="#ff2a2a"/>
<circle cx="195.86" cy="358.20" r="1.7" fill="#ff2a2a"/>
<circle cx="208.39" cy="358.20" r="1.7" fill="#ff2a2a"/>
<circle cx="220.92" cy="355.60" r="1.7" fill="#ff2a2a"/>
<circle cx="233.45" cy="351.00" r="1.7" fill="#ff2a2a"/>
<circle cx="245.98" cy="340.10" r="1.7" fill="#ff2a2a"/>
<circle cx="258.51" cy="338.10" r="1.7" fill="#ff2a2a"/>
<circle cx="271.04" cy="334.30" r="1.7" fill="#ff2a2a"/>
<polyline points="95.62,384.60 108.15,380.80 120.68,377.00 133.21,373.10 145.74,369.70 158.27,366.40 170.80,363.10 183.33,359.30 195.86,355.10 208.39,352.50 220.92,349.40 233.45,346.30 245.98,341.70 258.51,342.80 271.04,335.80" fill="none" stroke="#3888e8" stroke-width="1" stroke-linejoin="round"/>
<polygon points="95.62,382.50 97.62,386.00 93.62,386.00" fill="#1662d6"/>
<polygon points="108.15,378.70 110.15,382.20 106.15,382.20" fill="#1662d6"/>
<polygon points="120.68,374.90 122.68,378.40 118.68,378.40" fill="#1662d6"/>
<polygon points="133.21,371.00 135.21,374.50 131.21,374.50" fill="#1662d6"/>
<polygon points="145.74,367.60 147.74,371.10 143.74,371.10" fill="#1662d6"/>
<polygon points="158.27,364.30 160.27,367.80 156.27,367.80" fill="#1662d6"/>
<polygon points="170.80,361.00 172.80,364.50 168.80,364.50" fill="#1662d6"/>
<polygon points="183.33,357.20 185.33,360.70 181.33,360.70" fill="#1662d6"/>
<polygon points="195.86,353.00 197.86,356.50 193.86,356.50" fill="#1662d6"/>
<polygon points="208.39,350.40 210.39,353.90 206.39,353.90" fill="#1662d6"/>
<polygon points="220.92,347.30 222.92,350.80 218.92,350.80" fill="#1662d6"/>
<polygon points="233.45,344.20 235.45,347.70 231.45,347.70" fill="#1662d6"/>
<polygon points="245.98,339.60 247.98,343.10 243.98,343.10" fill="#1662d6"/>
<polygon points="258.51,340.70 260.51,344.20 256.51,344.20" fill="#1662d6"/>
<polygon points="271.04,333.70 273.04,337.20 269.04,337.20" fill="#1662d6"/>
<polyline points="45.50,273.00 58.03,273.00 70.56,273.00 83.09,273.00 95.62,272.80 108.15,272.60 120.68,272.50 133.21,272.40 145.74,272.20 158.27,272.00 170.80,272.00 183.33,272.00 195.86,272.00 208.39,271.80 220.92,271.40 233.45,272.00 245.98,272.00 258.51,271.40 271.04,270.70" fill="none" stroke="#32b77a" stroke-width="1" stroke-linejoin="round"/>
<polygon points="58.03,275.10 60.03,271.60 56.03,271.60" fill="#0f9a55"/>
<polygon points="70.56,275.10 72.56,271.60 68.56,271.60" fill="#0f9a55"/>
<polygon points="83.09,275.10 85.09,271.60 81.09,271.60" fill="#0f9a55"/>
<polygon points="95.62,274.90 97.62,271.40 93.62,271.40" fill="#0f9a55"/>
<polygon points="108.15,274.70 110.15,271.20 106.15,271.20" fill="#0f9a55"/>
<polygon points="120.68,274.60 122.68,271.10 118.68,271.10" fill="#0f9a55"/>
<polygon points="133.21,274.50 135.21,271.00 131.21,271.00" fill="#0f9a55"/>
<polygon points="145.74,274.30 147.74,270.80 143.74,270.80" fill="#0f9a55"/>
<polygon points="158.27,274.10 160.27,270.60 156.27,270.60" fill="#0f9a55"/>
<polygon points="170.80,274.10 172.80,270.60 168.80,270.60" fill="#0f9a55"/>
<polygon points="183.33,274.10 185.33,270.60 181.33,270.60" fill="#0f9a55"/>
<polygon points="195.86,274.10 197.86,270.60 193.86,270.60" fill="#0f9a55"/>
<polygon points="208.39,273.90 210.39,270.40 206.39,270.40" fill="#0f9a55"/>
<polygon points="220.92,273.50 222.92,270.00 218.92,270.00" fill="#0f9a55"/>
<polygon points="233.45,274.10 235.45,270.60 231.45,270.60" fill="#0f9a55"/>
<polygon points="245.98,274.10 247.98,270.60 243.98,270.60" fill="#0f9a55"/>
<polygon points="258.51,273.50 260.51,270.00 256.51,270.00" fill="#0f9a55"/>
<polygon points="271.04,272.80 273.04,269.30 269.04,269.30" fill="#0f9a55"/>
<polyline points="45.50,264.80 58.03,264.80 70.56,264.80 83.09,264.80 95.62,264.80 108.15,264.80 120.68,264.80 133.21,264.80 145.74,264.80 158.27,264.20 170.80,264.20 183.33,264.20 195.86,264.20 208.39,264.20 220.92,264.20 233.45,263.70 245.98,263.70 258.51,263.30 271.04,262.60" fill="none" stroke="#cf9ff2" stroke-width="1" stroke-linejoin="round"/>
<polygon points="58.03,262.70 59.93,264.80 58.03,266.90 56.13,264.80" fill="#a862e0"/>
<polygon points="70.56,262.70 72.46,264.80 70.56,266.90 68.66,264.80" fill="#a862e0"/>
<polygon points="83.09,262.70 84.99,264.80 83.09,266.90 81.19,264.80" fill="#a862e0"/>
<polygon points="95.62,262.70 97.52,264.80 95.62,266.90 93.72,264.80" fill="#a862e0"/>
<polygon points="108.15,262.70 110.05,264.80 108.15,266.90 106.25,264.80" fill="#a862e0"/>
<polygon points="120.68,262.70 122.58,264.80 120.68,266.90 118.78,264.80" fill="#a862e0"/>
<polygon points="133.21,262.70 135.11,264.80 133.21,266.90 131.31,264.80" fill="#a862e0"/>
<polygon points="145.74,262.70 147.64,264.80 145.74,266.90 143.84,264.80" fill="#a862e0"/>
<polygon points="158.27,262.10 160.17,264.20 158.27,266.30 156.37,264.20" fill="#a862e0"/>
<polygon points="170.80,262.10 172.70,264.20 170.80,266.30 168.90,264.20" fill="#a862e0"/>
<polygon points="183.33,262.10 185.23,264.20 183.33,266.30 181.43,264.20" fill="#a862e0"/>
<polygon points="195.86,262.10 197.76,264.20 195.86,266.30 193.96,264.20" fill="#a862e0"/>
<polygon points="208.39,262.10 210.29,264.20 208.39,266.30 206.49,264.20" fill="#a862e0"/>
<polygon points="220.92,262.10 222.82,264.20 220.92,266.30 219.02,264.20" fill="#a862e0"/>
<polygon points="233.45,261.60 235.35,263.70 233.45,265.80 231.55,263.70" fill="#a862e0"/>
<polygon points="245.98,261.60 247.88,263.70 245.98,265.80 244.08,263.70" fill="#a862e0"/>
<polygon points="258.51,261.20 260.41,263.30 258.51,265.40 256.61,263.30" fill="#a862e0"/>
<polygon points="271.04,260.50 272.94,262.60 271.04,264.70 269.14,262.60" fill="#a862e0"/>
<polyline points="45.50,356.90 58.03,354.70 70.56,352.70 83.09,350.50 95.62,348.30 108.15,346.00 120.68,343.80 133.21,341.60 145.74,339.80 158.27,337.60 170.80,335.90 183.33,333.20 195.86,331.00 208.39,328.10 220.92,325.50 233.45,323.20 245.98,323.90 258.51,316.60 271.04,317.70" fill="none" stroke="#ff6464" stroke-width="1" stroke-linejoin="round"/>
<rect x="56.53" y="353.20" width="3.0" height="3.0" rx="0.8" fill="#fff" stroke="#ff6464" stroke-opacity="0.75" stroke-width="0.7"/>
<rect x="69.06" y="351.20" width="3.0" height="3.0" rx="0.8" fill="#fff" stroke="#ff6464" stroke-opacity="0.75" stroke-width="0.7"/>
<rect x="81.59" y="349.00" width="3.0" height="3.0" rx="0.8" fill="#fff" stroke="#ff6464" stroke-opacity="0.75" stroke-width="0.7"/>
<rect x="94.12" y="346.80" width="3.0" height="3.0" rx="0.8" fill="#fff" stroke="#ff6464" stroke-opacity="0.75" stroke-width="0.7"/>
<rect x="106.65" y="344.50" width="3.0" height="3.0" rx="0.8" fill="#fff" stroke="#ff6464" stroke-opacity="0.75" stroke-width="0.7"/>
<rect x="119.18" y="342.30" width="3.0" height="3.0" rx="0.8" fill="#fff" stroke="#ff6464" stroke-opacity="0.75" stroke-width="0.7"/>
<rect x="131.71" y="340.10" width="3.0" height="3.0" rx="0.8" fill="#fff" stroke="#ff6464" stroke-opacity="0.75" stroke-width="0.7"/>
<rect x="144.24" y="338.30" width="3.0" height="3.0" rx="0.8" fill="#fff" stroke="#ff6464" stroke-opacity="0.75" stroke-width="0.7"/>
<rect x="156.77" y="336.10" width="3.0" height="3.0" rx="0.8" fill="#fff" stroke="#ff6464" stroke-opacity="0.75" stroke-width="0.7"/>
<rect x="169.30" y="334.40" width="3.0" height="3.0" rx="0.8" fill="#fff" stroke="#ff6464" stroke-opacity="0.75" stroke-width="0.7"/>
<rect x="181.83" y="331.70" width="3.0" height="3.0" rx="0.8" fill="#fff" stroke="#ff6464" stroke-opacity="0.75" stroke-width="0.7"/>
<rect x="194.36" y="329.50" width="3.0" height="3.0" rx="0.8" fill="#fff" stroke="#ff6464" stroke-opacity="0.75" stroke-width="0.7"/>
<rect x="206.89" y="326.60" width="3.0" height="3.0" rx="0.8" fill="#fff" stroke="#ff6464" stroke-opacity="0.75" stroke-width="0.7"/>
<rect x="219.42" y="324.00" width="3.0" height="3.0" rx="0.8" fill="#fff" stroke="#ff6464" stroke-opacity="0.75" stroke-width="0.7"/>
<rect x="231.95" y="321.70" width="3.0" height="3.0" rx="0.8" fill="#fff" stroke="#ff6464" stroke-opacity="0.75" stroke-width="0.7"/>
<rect x="244.48" y="322.40" width="3.0" height="3.0" rx="0.8" fill="#fff" stroke="#ff6464" stroke-opacity="0.75" stroke-width="0.7"/>
<rect x="257.01" y="315.10" width="3.0" height="3.0" rx="0.8" fill="#fff" stroke="#ff6464" stroke-opacity="0.75" stroke-width="0.7"/>
<rect x="269.54" y="316.20" width="3.0" height="3.0" rx="0.8" fill="#fff" stroke="#ff6464" stroke-opacity="0.75" stroke-width="0.7"/>
<polyline points="45.50,344.30 58.03,343.20 70.56,341.40 83.09,339.80 95.62,337.60 108.15,335.90 120.68,333.70 133.21,331.70 145.74,329.40 158.27,327.70 170.80,325.50 183.33,322.80 195.86,321.00 208.39,318.80 220.92,316.20 233.45,313.90 245.98,311.50 258.51,309.30 271.04,307.30" fill="none" stroke="#3888e8" stroke-width="1" stroke-linejoin="round"/>
<rect x="56.53" y="341.70" width="3.0" height="3.0" rx="0.8" fill="#fff" stroke="#3888e8" stroke-opacity="0.75" stroke-width="0.7"/>
<rect x="69.06" y="339.90" width="3.0" height="3.0" rx="0.8" fill="#fff" stroke="#3888e8" stroke-opacity="0.75" stroke-width="0.7"/>
<rect x="81.59" y="338.30" width="3.0" height="3.0" rx="0.8" fill="#fff" stroke="#3888e8" stroke-opacity="0.75" stroke-width="0.7"/>
<rect x="94.12" y="336.10" width="3.0" height="3.0" rx="0.8" fill="#fff" stroke="#3888e8" stroke-opacity="0.75" stroke-width="0.7"/>
<rect x="106.65" y="334.40" width="3.0" height="3.0" rx="0.8" fill="#fff" stroke="#3888e8" stroke-opacity="0.75" stroke-width="0.7"/>
<rect x="119.18" y="332.20" width="3.0" height="3.0" rx="0.8" fill="#fff" stroke="#3888e8" stroke-opacity="0.75" stroke-width="0.7"/>
<rect x="131.71" y="330.20" width="3.0" height="3.0" rx="0.8" fill="#fff" stroke="#3888e8" stroke-opacity="0.75" stroke-width="0.7"/>
<rect x="144.24" y="327.90" width="3.0" height="3.0" rx="0.8" fill="#fff" stroke="#3888e8" stroke-opacity="0.75" stroke-width="0.7"/>
<rect x="156.77" y="326.20" width="3.0" height="3.0" rx="0.8" fill="#fff" stroke="#3888e8" stroke-opacity="0.75" stroke-width="0.7"/>
<rect x="169.30" y="324.00" width="3.0" height="3.0" rx="0.8" fill="#fff" stroke="#3888e8" stroke-opacity="0.75" stroke-width="0.7"/>
<rect x="181.83" y="321.30" width="3.0" height="3.0" rx="0.8" fill="#fff" stroke="#3888e8" stroke-opacity="0.75" stroke-width="0.7"/>
<rect x="194.36" y="319.50" width="3.0" height="3.0" rx="0.8" fill="#fff" stroke="#3888e8" stroke-opacity="0.75" stroke-width="0.7"/>
<rect x="206.89" y="317.30" width="3.0" height="3.0" rx="0.8" fill="#fff" stroke="#3888e8" stroke-opacity="0.75" stroke-width="0.7"/>
<rect x="219.42" y="314.70" width="3.0" height="3.0" rx="0.8" fill="#fff" stroke="#3888e8" stroke-opacity="0.75" stroke-width="0.7"/>
<rect x="231.95" y="312.40" width="3.0" height="3.0" rx="0.8" fill="#fff" stroke="#3888e8" stroke-opacity="0.75" stroke-width="0.7"/>
<rect x="244.48" y="310.00" width="3.0" height="3.0" rx="0.8" fill="#fff" stroke="#3888e8" stroke-opacity="0.75" stroke-width="0.7"/>
<rect x="257.01" y="307.80" width="3.0" height="3.0" rx="0.8" fill="#fff" stroke="#3888e8" stroke-opacity="0.75" stroke-width="0.7"/>
<rect x="269.54" y="305.80" width="3.0" height="3.0" rx="0.8" fill="#fff" stroke="#3888e8" stroke-opacity="0.75" stroke-width="0.7"/>
<polyline points="45.50,268.90 58.03,272.50 70.56,273.50 83.09,272.50 95.62,272.00 108.15,272.00 120.68,272.20 133.21,272.20 145.74,272.20 158.27,273.60 170.80,272.50 183.33,272.00 195.86,271.40 208.39,270.90 220.92,270.90 233.45,269.80 245.98,268.80 258.51,268.50 271.04,267.70" fill="none" stroke="#32b77a" stroke-width="1" stroke-linejoin="round"/>
<rect x="56.53" y="271.00" width="3.0" height="3.0" rx="0.8" fill="#fff" stroke="#32b77a" stroke-opacity="0.75" stroke-width="0.7"/>
<rect x="69.06" y="272.00" width="3.0" height="3.0" rx="0.8" fill="#fff" stroke="#32b77a" stroke-opacity="0.75" stroke-width="0.7"/>
<rect x="81.59" y="271.00" width="3.0" height="3.0" rx="0.8" fill="#fff" stroke="#32b77a" stroke-opacity="0.75" stroke-width="0.7"/>
<rect x="94.12" y="270.50" width="3.0" height="3.0" rx="0.8" fill="#fff" stroke="#32b77a" stroke-opacity="0.75" stroke-width="0.7"/>
<rect x="106.65" y="270.50" width="3.0" height="3.0" rx="0.8" fill="#fff" stroke="#32b77a" stroke-opacity="0.75" stroke-width="0.7"/>
<rect x="119.18" y="270.70" width="3.0" height="3.0" rx="0.8" fill="#fff" stroke="#32b77a" stroke-opacity="0.75" stroke-width="0.7"/>
<rect x="131.71" y="270.70" width="3.0" height="3.0" rx="0.8" fill="#fff" stroke="#32b77a" stroke-opacity="0.75" stroke-width="0.7"/>
<rect x="144.24" y="270.70" width="3.0" height="3.0" rx="0.8" fill="#fff" stroke="#32b77a" stroke-opacity="0.75" stroke-width="0.7"/>
<rect x="156.77" y="272.10" width="3.0" height="3.0" rx="0.8" fill="#fff" stroke="#32b77a" stroke-opacity="0.75" stroke-width="0.7"/>
<rect x="169.30" y="271.00" width="3.0" height="3.0" rx="0.8" fill="#fff" stroke="#32b77a" stroke-opacity="0.75" stroke-width="0.7"/>
<rect x="181.83" y="270.50" width="3.0" height="3.0" rx="0.8" fill="#fff" stroke="#32b77a" stroke-opacity="0.75" stroke-width="0.7"/>
<rect x="194.36" y="269.90" width="3.0" height="3.0" rx="0.8" fill="#fff" stroke="#32b77a" stroke-opacity="0.75" stroke-width="0.7"/>
<rect x="206.89" y="269.40" width="3.0" height="3.0" rx="0.8" fill="#fff" stroke="#32b77a" stroke-opacity="0.75" stroke-width="0.7"/>
<rect x="219.42" y="269.40" width="3.0" height="3.0" rx="0.8" fill="#fff" stroke="#32b77a" stroke-opacity="0.75" stroke-width="0.7"/>
<rect x="231.95" y="268.30" width="3.0" height="3.0" rx="0.8" fill="#fff" stroke="#32b77a" stroke-opacity="0.75" stroke-width="0.7"/>
<rect x="244.48" y="267.30" width="3.0" height="3.0" rx="0.8" fill="#fff" stroke="#32b77a" stroke-opacity="0.75" stroke-width="0.7"/>
<rect x="257.01" y="267.00" width="3.0" height="3.0" rx="0.8" fill="#fff" stroke="#32b77a" stroke-opacity="0.75" stroke-width="0.7"/>
<rect x="269.54" y="266.20" width="3.0" height="3.0" rx="0.8" fill="#fff" stroke="#32b77a" stroke-opacity="0.75" stroke-width="0.7"/>
<polyline points="45.50,276.20 58.03,276.60 70.56,272.50 83.09,267.50 95.62,270.70 108.15,271.40 120.68,269.20 133.21,268.80 145.74,268.50 158.27,267.30 170.80,265.90 183.33,265.50 195.86,265.30 208.39,264.20 220.92,264.20 233.45,263.30 245.98,263.10 258.51,262.60 271.04,261.50" fill="none" stroke="#cf9ff2" stroke-width="1" stroke-linejoin="round"/>
<rect x="56.53" y="275.10" width="3.0" height="3.0" rx="0.8" fill="#fff" stroke="#cf9ff2" stroke-opacity="0.75" stroke-width="0.7"/>
<rect x="69.06" y="271.00" width="3.0" height="3.0" rx="0.8" fill="#fff" stroke="#cf9ff2" stroke-opacity="0.75" stroke-width="0.7"/>
<rect x="81.59" y="266.00" width="3.0" height="3.0" rx="0.8" fill="#fff" stroke="#cf9ff2" stroke-opacity="0.75" stroke-width="0.7"/>
<rect x="94.12" y="269.20" width="3.0" height="3.0" rx="0.8" fill="#fff" stroke="#cf9ff2" stroke-opacity="0.75" stroke-width="0.7"/>
<rect x="106.65" y="269.90" width="3.0" height="3.0" rx="0.8" fill="#fff" stroke="#cf9ff2" stroke-opacity="0.75" stroke-width="0.7"/>
<rect x="119.18" y="267.70" width="3.0" height="3.0" rx="0.8" fill="#fff" stroke="#cf9ff2" stroke-opacity="0.75" stroke-width="0.7"/>
<rect x="131.71" y="267.30" width="3.0" height="3.0" rx="0.8" fill="#fff" stroke="#cf9ff2" stroke-opacity="0.75" stroke-width="0.7"/>
<rect x="144.24" y="267.00" width="3.0" height="3.0" rx="0.8" fill="#fff" stroke="#cf9ff2" stroke-opacity="0.75" stroke-width="0.7"/>
<rect x="156.77" y="265.80" width="3.0" height="3.0" rx="0.8" fill="#fff" stroke="#cf9ff2" stroke-opacity="0.75" stroke-width="0.7"/>
<rect x="169.30" y="264.40" width="3.0" height="3.0" rx="0.8" fill="#fff" stroke="#cf9ff2" stroke-opacity="0.75" stroke-width="0.7"/>
<rect x="181.83" y="264.00" width="3.0" height="3.0" rx="0.8" fill="#fff" stroke="#cf9ff2" stroke-opacity="0.75" stroke-width="0.7"/>
<rect x="194.36" y="263.80" width="3.0" height="3.0" rx="0.8" fill="#fff" stroke="#cf9ff2" stroke-opacity="0.75" stroke-width="0.7"/>
<rect x="206.89" y="262.70" width="3.0" height="3.0" rx="0.8" fill="#fff" stroke="#cf9ff2" stroke-opacity="0.75" stroke-width="0.7"/>
<rect x="219.42" y="262.70" width="3.0" height="3.0" rx="0.8" fill="#fff" stroke="#cf9ff2" stroke-opacity="0.75" stroke-width="0.7"/>
<rect x="231.95" y="261.80" width="3.0" height="3.0" rx="0.8" fill="#fff" stroke="#cf9ff2" stroke-opacity="0.75" stroke-width="0.7"/>
<rect x="244.48" y="261.60" width="3.0" height="3.0" rx="0.8" fill="#fff" stroke="#cf9ff2" stroke-opacity="0.75" stroke-width="0.7"/>
<rect x="257.01" y="261.10" width="3.0" height="3.0" rx="0.8" fill="#fff" stroke="#cf9ff2" stroke-opacity="0.75" stroke-width="0.7"/>
<rect x="269.54" y="260.00" width="3.0" height="3.0" rx="0.8" fill="#fff" stroke="#cf9ff2" stroke-opacity="0.75" stroke-width="0.7"/>
</g>
<text x="41.40" y="392.60" font-size="9.6" text-anchor="end" >10<tspan font-size="5.3" dx="0.3" dy="-4.4">−5</tspan></text>
<text x="41.40" y="376.60" font-size="9.6" text-anchor="end" >10<tspan font-size="5.3" dx="0.3" dy="-4.4">−4</tspan></text>
<text x="41.40" y="360.60" font-size="9.6" text-anchor="end" >0.001</text>
<text x="41.40" y="344.60" font-size="9.6" text-anchor="end" >0.01</text>
<text x="41.40" y="328.60" font-size="9.6" text-anchor="end" >0.1</text>
<text x="41.40" y="312.60" font-size="9.6" text-anchor="end" >1</text>
<text x="41.40" y="296.60" font-size="9.6" text-anchor="end" >10</text>
<text x="41.40" y="280.60" font-size="9.6" text-anchor="end" >100</text>
<text x="41.40" y="264.60" font-size="9.6" text-anchor="end" >1000</text>
<text x="41.40" y="248.60" font-size="9.6" text-anchor="end" >10<tspan font-size="5.3" dx="0.3" dy="-4.4">4</tspan></text>
<text x="41.40" y="232.60" font-size="9.6" text-anchor="end" >10<tspan font-size="5.3" dx="0.3" dy="-4.4">5</tspan></text>
<text x="45.40" y="404.40" font-size="9.0" text-anchor="middle" >0.01</text>
<text x="158.85" y="404.40" font-size="9.0" text-anchor="middle" >0.1</text>
<text x="272.30" y="404.40" font-size="9.0" text-anchor="middle" >1</text>
<text x="158.85" y="421.60" font-size="10.2" text-anchor="middle" >f (hz)</text>
<text x="0" y="0" font-size="10.9" text-anchor="middle" transform="translate(15.60,305.80) rotate(-90)">G'G"(Pa)</text>
<rect x="67.60" y="217.40" width="204.70" height="36.80" fill="#fff" stroke="#c0c0c0" stroke-width="1.1"/>
<line x1="67.10" y1="254.20" x2="272.30" y2="254.20" stroke="#999" stroke-width="1"/>
<line x1="68.00" y1="225.10" x2="89.10" y2="225.10" stroke="#777777" stroke-width="1"/>
<rect x="77.75" y="223.65" width="2.9" height="2.9" fill="#3a3a3a"/>
<text x="89.20" y="227.90" font-size="9.2" text-anchor="start" >G'</text>
<line x1="99.10" y1="225.10" x2="120.10" y2="225.10" stroke="#777777" stroke-width="1"/>
<rect x="107.90" y="223.60" width="3.0" height="3.0" rx="0.8" fill="#fff" stroke="#777777" stroke-opacity="0.75" stroke-width="0.7"/>
<text x="121.80" y="227.90" font-size="9.2" text-anchor="start" >G" 0.1wt%</text>
<line x1="166.80" y1="225.10" x2="187.90" y2="225.10" stroke="#ff6464" stroke-width="1"/>
<circle cx="178.00" cy="225.10" r="1.7" fill="#ff2a2a"/>
<text x="188.00" y="227.90" font-size="9.2" text-anchor="start" >G'</text>
<line x1="197.90" y1="225.10" x2="218.90" y2="225.10" stroke="#ff6464" stroke-width="1"/>
<rect x="206.70" y="223.60" width="3.0" height="3.0" rx="0.8" fill="#fff" stroke="#ff6464" stroke-opacity="0.75" stroke-width="0.7"/>
<text x="220.60" y="227.90" font-size="9.2" text-anchor="start" >G" 0.25wt%</text>
<line x1="68.00" y1="236.45" x2="89.10" y2="236.45" stroke="#3888e8" stroke-width="1"/>
<polygon points="79.20,234.35 81.20,237.85 77.20,237.85" fill="#1662d6"/>
<text x="89.20" y="239.25" font-size="9.2" text-anchor="start" >G'</text>
<line x1="99.10" y1="236.45" x2="120.10" y2="236.45" stroke="#3888e8" stroke-width="1"/>
<rect x="107.90" y="234.95" width="3.0" height="3.0" rx="0.8" fill="#fff" stroke="#3888e8" stroke-opacity="0.75" stroke-width="0.7"/>
<text x="121.80" y="239.25" font-size="9.2" text-anchor="start" >G" 0.5wt%</text>
<line x1="166.80" y1="236.45" x2="187.90" y2="236.45" stroke="#32b77a" stroke-width="1"/>
<polygon points="178.00,238.55 180.00,235.05 176.00,235.05" fill="#0f9a55"/>
<text x="188.00" y="239.25" font-size="9.2" text-anchor="start" >G'</text>
<line x1="197.90" y1="236.45" x2="218.90" y2="236.45" stroke="#32b77a" stroke-width="1"/>
<rect x="206.70" y="234.95" width="3.0" height="3.0" rx="0.8" fill="#fff" stroke="#32b77a" stroke-opacity="0.75" stroke-width="0.7"/>
<text x="220.60" y="239.25" font-size="9.2" text-anchor="start" >G" 1wt%</text>
<line x1="68.00" y1="247.80" x2="89.10" y2="247.80" stroke="#cf9ff2" stroke-width="1"/>
<polygon points="79.20,245.70 81.10,247.80 79.20,249.90 77.30,247.80" fill="#a862e0"/>
<text x="89.20" y="250.60" font-size="9.2" text-anchor="start" >G'</text>
<line x1="99.10" y1="247.80" x2="120.10" y2="247.80" stroke="#cf9ff2" stroke-width="1"/>
<rect x="107.90" y="246.30" width="3.0" height="3.0" rx="0.8" fill="#fff" stroke="#cf9ff2" stroke-opacity="0.75" stroke-width="0.7"/>
<text x="121.80" y="250.60" font-size="9.2" text-anchor="start" >G" 2wt%</text>
<line x1="45.40" y1="217.40" x2="272.30" y2="217.40" stroke="#7a7a7a" stroke-width="1"/>
<line x1="272.30" y1="216.90" x2="272.30" y2="393.90" stroke="#a8a8a8" stroke-width="1.3"/>
<line x1="45.40" y1="393.40" x2="272.90" y2="393.40" stroke="#5a5a5a" stroke-width="1"/>
<line x1="45.40" y1="216.90" x2="45.40" y2="393.90" stroke="#939393" stroke-width="1.3"/>
<line x1="45.00" y1="392.35" x2="47.00" y2="392.35" stroke="#666" stroke-width="0.8"/>
<line x1="45.00" y1="391.28" x2="47.00" y2="391.28" stroke="#666" stroke-width="0.8"/>
<line x1="45.00" y1="390.35" x2="47.00" y2="390.35" stroke="#666" stroke-width="0.8"/>
<line x1="45.00" y1="389.53" x2="47.00" y2="389.53" stroke="#666" stroke-width="0.8"/>
<line x1="45.00" y1="388.80" x2="48.20" y2="388.80" stroke="#666" stroke-width="0.8"/>
<line x1="45.00" y1="383.98" x2="47.00" y2="383.98" stroke="#666" stroke-width="0.8"/>
<line x1="45.00" y1="381.17" x2="47.00" y2="381.17" stroke="#666" stroke-width="0.8"/>
<line x1="45.00" y1="379.17" x2="47.00" y2="379.17" stroke="#666" stroke-width="0.8"/>
<line x1="45.00" y1="377.62" x2="47.00" y2="377.62" stroke="#666" stroke-width="0.8"/>
<line x1="45.00" y1="376.35" x2="47.00" y2="376.35" stroke="#666" stroke-width="0.8"/>
<line x1="45.00" y1="375.28" x2="47.00" y2="375.28" stroke="#666" stroke-width="0.8"/>
<line x1="45.00" y1="374.35" x2="47.00" y2="374.35" stroke="#666" stroke-width="0.8"/>
<line x1="45.00" y1="373.53" x2="47.00" y2="373.53" stroke="#666" stroke-width="0.8"/>
<line x1="45.00" y1="372.80" x2="48.20" y2="372.80" stroke="#666" stroke-width="0.8"/>
<line x1="45.00" y1="367.98" x2="47.00" y2="367.98" stroke="#666" stroke-width="0.8"/>
<line x1="45.00" y1="365.17" x2="47.00" y2="365.17" stroke="#666" stroke-width="0.8"/>
<line x1="45.00" y1="363.17" x2="47.00" y2="363.17" stroke="#666" stroke-width="0.8"/>
<line x1="45.00" y1="361.62" x2="47.00" y2="361.62" stroke="#666" stroke-width="0.8"/>
<line x1="45.00" y1="360.35" x2="47.00" y2="360.35" stroke="#666" stroke-width="0.8"/>
<line x1="45.00" y1="359.28" x2="47.00" y2="359.28" stroke="#666" stroke-width="0.8"/>
<line x1="45.00" y1="358.35" x2="47.00" y2="358.35" stroke="#666" stroke-width="0.8"/>
<line x1="45.00" y1="357.53" x2="47.00" y2="357.53" stroke="#666" stroke-width="0.8"/>
<line x1="45.00" y1="356.80" x2="48.20" y2="356.80" stroke="#666" stroke-width="0.8"/>
<line x1="45.00" y1="351.98" x2="47.00" y2="351.98" stroke="#666" stroke-width="0.8"/>
<line x1="45.00" y1="349.17" x2="47.00" y2="349.17" stroke="#666" stroke-width="0.8"/>
<line x1="45.00" y1="347.17" x2="47.00" y2="347.17" stroke="#666" stroke-width="0.8"/>
<line x1="45.00" y1="345.62" x2="47.00" y2="345.62" stroke="#666" stroke-width="0.8"/>
<line x1="45.00" y1="344.35" x2="47.00" y2="344.35" stroke="#666" stroke-width="0.8"/>
<line x1="45.00" y1="343.28" x2="47.00" y2="343.28" stroke="#666" stroke-width="0.8"/>
<line x1="45.00" y1="342.35" x2="47.00" y2="342.35" stroke="#666" stroke-width="0.8"/>
<line x1="45.00" y1="341.53" x2="47.00" y2="341.53" stroke="#666" stroke-width="0.8"/>
<line x1="45.00" y1="340.80" x2="48.20" y2="340.80" stroke="#666" stroke-width="0.8"/>
<line x1="45.00" y1="335.98" x2="47.00" y2="335.98" stroke="#666" stroke-width="0.8"/>
<line x1="45.00" y1="333.17" x2="47.00" y2="333.17" stroke="#666" stroke-width="0.8"/>
<line x1="45.00" y1="331.17" x2="47.00" y2="331.17" stroke="#666" stroke-width="0.8"/>
<line x1="45.00" y1="329.62" x2="47.00" y2="329.62" stroke="#666" stroke-width="0.8"/>
<line x1="45.00" y1="328.35" x2="47.00" y2="328.35" stroke="#666" stroke-width="0.8"/>
<line x1="45.00" y1="327.28" x2="47.00" y2="327.28" stroke="#666" stroke-width="0.8"/>
<line x1="45.00" y1="326.35" x2="47.00" y2="326.35" stroke="#666" stroke-width="0.8"/>
<line x1="45.00" y1="325.53" x2="47.00" y2="325.53" stroke="#666" stroke-width="0.8"/>
<line x1="45.00" y1="324.80" x2="48.20" y2="324.80" stroke="#666" stroke-width="0.8"/>
<line x1="45.00" y1="319.98" x2="47.00" y2="319.98" stroke="#666" stroke-width="0.8"/>
<line x1="45.00" y1="317.17" x2="47.00" y2="317.17" stroke="#666" stroke-width="0.8"/>
<line x1="45.00" y1="315.17" x2="47.00" y2="315.17" stroke="#666" stroke-width="0.8"/>
<line x1="45.00" y1="313.62" x2="47.00" y2="313.62" stroke="#666" stroke-width="0.8"/>
<line x1="45.00" y1="312.35" x2="47.00" y2="312.35" stroke="#666" stroke-width="0.8"/>
<line x1="45.00" y1="311.28" x2="47.00" y2="311.28" stroke="#666" stroke-width="0.8"/>
<line x1="45.00" y1="310.35" x2="47.00" y2="310.35" stroke="#666" stroke-width="0.8"/>
<line x1="45.00" y1="309.53" x2="47.00" y2="309.53" stroke="#666" stroke-width="0.8"/>
<line x1="45.00" y1="308.80" x2="48.20" y2="308.80" stroke="#666" stroke-width="0.8"/>
<line x1="45.00" y1="303.98" x2="47.00" y2="303.98" stroke="#666" stroke-width="0.8"/>
<line x1="45.00" y1="301.17" x2="47.00" y2="301.17" stroke="#666" stroke-width="0.8"/>
<line x1="45.00" y1="299.17" x2="47.00" y2="299.17" stroke="#666" stroke-width="0.8"/>
<line x1="45.00" y1="297.62" x2="47.00" y2="297.62" stroke="#666" stroke-width="0.8"/>
<line x1="45.00" y1="296.35" x2="47.00" y2="296.35" stroke="#666" stroke-width="0.8"/>
<line x1="45.00" y1="295.28" x2="47.00" y2="295.28" stroke="#666" stroke-width="0.8"/>
<line x1="45.00" y1="294.35" x2="47.00" y2="294.35" stroke="#666" stroke-width="0.8"/>
<line x1="45.00" y1="293.53" x2="47.00" y2="293.53" stroke="#666" stroke-width="0.8"/>
<line x1="45.00" y1="292.80" x2="48.20" y2="292.80" stroke="#666" stroke-width="0.8"/>
<line x1="45.00" y1="287.98" x2="47.00" y2="287.98" stroke="#666" stroke-width="0.8"/>
<line x1="45.00" y1="285.17" x2="47.00" y2="285.17" stroke="#666" stroke-width="0.8"/>
<line x1="45.00" y1="283.17" x2="47.00" y2="283.17" stroke="#666" stroke-width="0.8"/>
<line x1="45.00" y1="281.62" x2="47.00" y2="281.62" stroke="#666" stroke-width="0.8"/>
<line x1="45.00" y1="280.35" x2="47.00" y2="280.35" stroke="#666" stroke-width="0.8"/>
<line x1="45.00" y1="279.28" x2="47.00" y2="279.28" stroke="#666" stroke-width="0.8"/>
<line x1="45.00" y1="278.35" x2="47.00" y2="278.35" stroke="#666" stroke-width="0.8"/>
<line x1="45.00" y1="277.53" x2="47.00" y2="277.53" stroke="#666" stroke-width="0.8"/>
<line x1="45.00" y1="276.80" x2="48.20" y2="276.80" stroke="#666" stroke-width="0.8"/>
<line x1="45.00" y1="271.98" x2="47.00" y2="271.98" stroke="#666" stroke-width="0.8"/>
<line x1="45.00" y1="269.17" x2="47.00" y2="269.17" stroke="#666" stroke-width="0.8"/>
<line x1="45.00" y1="267.17" x2="47.00" y2="267.17" stroke="#666" stroke-width="0.8"/>
<line x1="45.00" y1="265.62" x2="47.00" y2="265.62" stroke="#666" stroke-width="0.8"/>
<line x1="45.00" y1="264.35" x2="47.00" y2="264.35" stroke="#666" stroke-width="0.8"/>
<line x1="45.00" y1="263.28" x2="47.00" y2="263.28" stroke="#666" stroke-width="0.8"/>
<line x1="45.00" y1="262.35" x2="47.00" y2="262.35" stroke="#666" stroke-width="0.8"/>
<line x1="45.00" y1="261.53" x2="47.00" y2="261.53" stroke="#666" stroke-width="0.8"/>
<line x1="45.00" y1="260.80" x2="48.20" y2="260.80" stroke="#666" stroke-width="0.8"/>
<line x1="45.00" y1="255.98" x2="47.00" y2="255.98" stroke="#666" stroke-width="0.8"/>
<line x1="45.00" y1="253.17" x2="47.00" y2="253.17" stroke="#666" stroke-width="0.8"/>
<line x1="45.00" y1="251.17" x2="47.00" y2="251.17" stroke="#666" stroke-width="0.8"/>
<line x1="45.00" y1="249.62" x2="47.00" y2="249.62" stroke="#666" stroke-width="0.8"/>
<line x1="45.00" y1="248.35" x2="47.00" y2="248.35" stroke="#666" stroke-width="0.8"/>
<line x1="45.00" y1="247.28" x2="47.00" y2="247.28" stroke="#666" stroke-width="0.8"/>
<line x1="45.00" y1="246.35" x2="47.00" y2="246.35" stroke="#666" stroke-width="0.8"/>
<line x1="45.00" y1="245.53" x2="47.00" y2="245.53" stroke="#666" stroke-width="0.8"/>
<line x1="45.00" y1="244.80" x2="48.20" y2="244.80" stroke="#666" stroke-width="0.8"/>
<line x1="45.00" y1="239.98" x2="47.00" y2="239.98" stroke="#666" stroke-width="0.8"/>
<line x1="45.00" y1="237.17" x2="47.00" y2="237.17" stroke="#666" stroke-width="0.8"/>
<line x1="45.00" y1="235.17" x2="47.00" y2="235.17" stroke="#666" stroke-width="0.8"/>
<line x1="45.00" y1="233.62" x2="47.00" y2="233.62" stroke="#666" stroke-width="0.8"/>
<line x1="45.00" y1="232.35" x2="47.00" y2="232.35" stroke="#666" stroke-width="0.8"/>
<line x1="45.00" y1="231.28" x2="47.00" y2="231.28" stroke="#666" stroke-width="0.8"/>
<line x1="45.00" y1="230.35" x2="47.00" y2="230.35" stroke="#666" stroke-width="0.8"/>
<line x1="45.00" y1="229.53" x2="47.00" y2="229.53" stroke="#666" stroke-width="0.8"/>
<line x1="45.00" y1="228.80" x2="48.20" y2="228.80" stroke="#666" stroke-width="0.8"/>
<line x1="45.00" y1="223.98" x2="47.00" y2="223.98" stroke="#666" stroke-width="0.8"/>
<line x1="45.00" y1="221.17" x2="47.00" y2="221.17" stroke="#666" stroke-width="0.8"/>
<line x1="45.00" y1="219.17" x2="47.00" y2="219.17" stroke="#666" stroke-width="0.8"/>
<line x1="45.00" y1="217.62" x2="47.00" y2="217.62" stroke="#666" stroke-width="0.8"/>
<line x1="45.40" y1="393.40" x2="45.40" y2="390.60" stroke="#666" stroke-width="0.8"/>
<line x1="79.55" y1="393.40" x2="79.55" y2="391.80" stroke="#666" stroke-width="0.8"/>
<line x1="99.53" y1="393.40" x2="99.53" y2="391.80" stroke="#666" stroke-width="0.8"/>
<line x1="113.70" y1="393.40" x2="113.70" y2="391.80" stroke="#666" stroke-width="0.8"/>
<line x1="124.70" y1="393.40" x2="124.70" y2="391.80" stroke="#666" stroke-width="0.8"/>
<line x1="133.68" y1="393.40" x2="133.68" y2="391.80" stroke="#666" stroke-width="0.8"/>
<line x1="141.28" y1="393.40" x2="141.28" y2="391.80" stroke="#666" stroke-width="0.8"/>
<line x1="147.86" y1="393.40" x2="147.86" y2="391.80" stroke="#666" stroke-width="0.8"/>
<line x1="153.66" y1="393.40" x2="153.66" y2="391.80" stroke="#666" stroke-width="0.8"/>
<line x1="158.85" y1="393.40" x2="158.85" y2="390.60" stroke="#666" stroke-width="0.8"/>
<line x1="193.00" y1="393.40" x2="193.00" y2="391.80" stroke="#666" stroke-width="0.8"/>
<line x1="212.98" y1="393.40" x2="212.98" y2="391.80" stroke="#666" stroke-width="0.8"/>
<line x1="227.15" y1="393.40" x2="227.15" y2="391.80" stroke="#666" stroke-width="0.8"/>
<line x1="238.15" y1="393.40" x2="238.15" y2="391.80" stroke="#666" stroke-width="0.8"/>
<line x1="247.13" y1="393.40" x2="247.13" y2="391.80" stroke="#666" stroke-width="0.8"/>
<line x1="254.73" y1="393.40" x2="254.73" y2="391.80" stroke="#666" stroke-width="0.8"/>
<line x1="261.31" y1="393.40" x2="261.31" y2="391.80" stroke="#666" stroke-width="0.8"/>
<line x1="267.11" y1="393.40" x2="267.11" y2="391.80" stroke="#666" stroke-width="0.8"/>
<text x="4.50" y="228.40" font-size="10.5" text-anchor="start" >(c)</text>
<clipPath id="cld"><rect x="315.00" y="217.60" width="226.80" height="175.80"/></clipPath>
<g clip-path="url(#cld)">
<polyline points="365.20,384.30 377.75,378.70 390.30,373.30 402.85,368.90 415.40,364.00 427.95,360.00 440.50,355.40 453.05,350.70 465.60,346.80 478.15,342.20 490.70,342.20 503.25,333.60 515.80,328.70 528.35,328.70 540.90,321.30" fill="none" stroke="#777777" stroke-width="1" stroke-linejoin="round"/>
<rect x="363.75" y="382.85" width="2.9" height="2.9" fill="#3a3a3a"/>
<rect x="376.30" y="377.25" width="2.9" height="2.9" fill="#3a3a3a"/>
<rect x="388.85" y="371.85" width="2.9" height="2.9" fill="#3a3a3a"/>
<rect x="401.40" y="367.45" width="2.9" height="2.9" fill="#3a3a3a"/>
<rect x="413.95" y="362.55" width="2.9" height="2.9" fill="#3a3a3a"/>
<rect x="426.50" y="358.55" width="2.9" height="2.9" fill="#3a3a3a"/>
<rect x="439.05" y="353.95" width="2.9" height="2.9" fill="#3a3a3a"/>
<rect x="451.60" y="349.25" width="2.9" height="2.9" fill="#3a3a3a"/>
<rect x="464.15" y="345.35" width="2.9" height="2.9" fill="#3a3a3a"/>
<rect x="476.70" y="340.75" width="2.9" height="2.9" fill="#3a3a3a"/>
<rect x="489.25" y="340.75" width="2.9" height="2.9" fill="#3a3a3a"/>
<rect x="501.80" y="332.15" width="2.9" height="2.9" fill="#3a3a3a"/>
<rect x="514.35" y="327.25" width="2.9" height="2.9" fill="#3a3a3a"/>
<rect x="526.90" y="327.25" width="2.9" height="2.9" fill="#3a3a3a"/>
<rect x="539.45" y="319.85" width="2.9" height="2.9" fill="#3a3a3a"/>
<polyline points="315.00,309.60 327.55,307.10 340.10,307.90 352.65,307.60 365.20,309.10 377.75,309.60 390.30,309.60 402.85,309.10 415.40,309.10 427.95,308.40 440.50,307.90 453.05,307.60 465.60,306.70 478.15,305.90 490.70,305.20 503.25,303.50 515.80,302.20 528.35,301.00 540.90,298.60" fill="none" stroke="#ff6464" stroke-width="1" stroke-linejoin="round"/>
<circle cx="327.55" cy="307.10" r="1.7" fill="#ff2a2a"/>
<circle cx="340.10" cy="307.90" r="1.7" fill="#ff2a2a"/>
<circle cx="352.65" cy="307.60" r="1.7" fill="#ff2a2a"/>
<circle cx="365.20" cy="309.10" r="1.7" fill="#ff2a2a"/>
<circle cx="377.75" cy="309.60" r="1.7" fill="#ff2a2a"/>
<circle cx="390.30" cy="309.60" r="1.7" fill="#ff2a2a"/>
<circle cx="402.85" cy="309.10" r="1.7" fill="#ff2a2a"/>
<circle cx="415.40" cy="309.10" r="1.7" fill="#ff2a2a"/>
<circle cx="427.95" cy="308.40" r="1.7" fill="#ff2a2a"/>
<circle cx="440.50" cy="307.90" r="1.7" fill="#ff2a2a"/>
<circle cx="453.05" cy="307.60" r="1.7" fill="#ff2a2a"/>
<circle cx="465.60" cy="306.70" r="1.7" fill="#ff2a2a"/>
<circle cx="478.15" cy="305.90" r="1.7" fill="#ff2a2a"/>
<circle cx="490.70" cy="305.20" r="1.7" fill="#ff2a2a"/>
<circle cx="503.25" cy="303.50" r="1.7" fill="#ff2a2a"/>
<circle cx="515.80" cy="302.20" r="1.7" fill="#ff2a2a"/>
<circle cx="528.35" cy="301.00" r="1.7" fill="#ff2a2a"/>
<circle cx="540.90" cy="298.60" r="1.7" fill="#ff2a2a"/>
<polyline points="315.00,280.00 327.55,280.40 340.10,279.50 352.65,279.00 365.20,279.00 377.75,279.00 390.30,279.00 402.85,279.00 415.40,277.80 427.95,278.50 440.50,278.50 453.05,278.20 465.60,278.00 478.15,277.30 490.70,277.30 503.25,277.00 515.80,276.80 528.35,276.80 540.90,276.20" fill="none" stroke="#3888e8" stroke-width="1" stroke-linejoin="round"/>
<polygon points="327.55,278.30 329.55,281.80 325.55,281.80" fill="#1662d6"/>
<polygon points="340.10,277.40 342.10,280.90 338.10,280.90" fill="#1662d6"/>
<polygon points="352.65,276.90 354.65,280.40 350.65,280.40" fill="#1662d6"/>
<polygon points="365.20,276.90 367.20,280.40 363.20,280.40" fill="#1662d6"/>
<polygon points="377.75,276.90 379.75,280.40 375.75,280.40" fill="#1662d6"/>
<polygon points="390.30,276.90 392.30,280.40 388.30,280.40" fill="#1662d6"/>
<polygon points="402.85,276.90 404.85,280.40 400.85,280.40" fill="#1662d6"/>
<polygon points="415.40,275.70 417.40,279.20 413.40,279.20" fill="#1662d6"/>
<polygon points="427.95,276.40 429.95,279.90 425.95,279.90" fill="#1662d6"/>
<polygon points="440.50,276.40 442.50,279.90 438.50,279.90" fill="#1662d6"/>
<polygon points="453.05,276.10 455.05,279.60 451.05,279.60" fill="#1662d6"/>
<polygon points="465.60,275.90 467.60,279.40 463.60,279.40" fill="#1662d6"/>
<polygon points="478.15,275.20 480.15,278.70 476.15,278.70" fill="#1662d6"/>
<polygon points="490.70,275.20 492.70,278.70 488.70,278.70" fill="#1662d6"/>
<polygon points="503.25,274.90 505.25,278.40 501.25,278.40" fill="#1662d6"/>
<polygon points="515.80,274.70 517.80,278.20 513.80,278.20" fill="#1662d6"/>
<polygon points="528.35,274.70 530.35,278.20 526.35,278.20" fill="#1662d6"/>
<polygon points="540.90,274.10 542.90,277.60 538.90,277.60" fill="#1662d6"/>
<polyline points="315.00,257.00 327.55,258.10 340.10,257.70 352.65,257.70 365.20,257.70 377.75,258.10 390.30,257.70 402.85,258.50 415.40,257.70 427.95,257.20 440.50,257.40 453.05,257.40 465.60,257.40 478.15,257.40 490.70,257.40 503.25,257.20 515.80,256.50 528.35,257.00 540.90,257.00" fill="none" stroke="#32b77a" stroke-width="1" stroke-linejoin="round"/>
<polygon points="327.55,260.20 329.55,256.70 325.55,256.70" fill="#0f9a55"/>
<polygon points="340.10,259.80 342.10,256.30 338.10,256.30" fill="#0f9a55"/>
<polygon points="352.65,259.80 354.65,256.30 350.65,256.30" fill="#0f9a55"/>
<polygon points="365.20,259.80 367.20,256.30 363.20,256.30" fill="#0f9a55"/>
<polygon points="377.75,260.20 379.75,256.70 375.75,256.70" fill="#0f9a55"/>
<polygon points="390.30,259.80 392.30,256.30 388.30,256.30" fill="#0f9a55"/>
<polygon points="402.85,260.60 404.85,257.10 400.85,257.10" fill="#0f9a55"/>
<polygon points="415.40,259.80 417.40,256.30 413.40,256.30" fill="#0f9a55"/>
<polygon points="427.95,259.30 429.95,255.80 425.95,255.80" fill="#0f9a55"/>
<polygon points="440.50,259.50 442.50,256.00 438.50,256.00" fill="#0f9a55"/>
<polygon points="453.05,259.50 455.05,256.00 451.05,256.00" fill="#0f9a55"/>
<polygon points="465.60,259.50 467.60,256.00 463.60,256.00" fill="#0f9a55"/>
<polygon points="478.15,259.50 480.15,256.00 476.15,256.00" fill="#0f9a55"/>
<polygon points="490.70,259.50 492.70,256.00 488.70,256.00" fill="#0f9a55"/>
<polygon points="503.25,259.30 505.25,255.80 501.25,255.80" fill="#0f9a55"/>
<polygon points="515.80,258.60 517.80,255.10 513.80,255.10" fill="#0f9a55"/>
<polygon points="528.35,259.10 530.35,255.60 526.35,255.60" fill="#0f9a55"/>
<polygon points="540.90,259.10 542.90,255.60 538.90,255.60" fill="#0f9a55"/>
<polyline points="315.00,351.70 327.55,350.50 340.10,348.80 352.65,346.80 365.20,344.40 377.75,341.90 390.30,339.70 402.85,337.80 415.40,335.30 427.95,333.20 440.50,331.10 453.05,329.20 465.60,327.20 478.15,325.00 490.70,323.10 503.25,321.10 515.80,318.20 528.35,318.20 540.90,320.60" fill="none" stroke="#777777" stroke-width="1" stroke-linejoin="round"/>
<rect x="326.05" y="349.00" width="3.0" height="3.0" rx="0.8" fill="#fff" stroke="#777777" stroke-opacity="0.75" stroke-width="0.7"/>
<rect x="338.60" y="347.30" width="3.0" height="3.0" rx="0.8" fill="#fff" stroke="#777777" stroke-opacity="0.75" stroke-width="0.7"/>
<rect x="351.15" y="345.30" width="3.0" height="3.0" rx="0.8" fill="#fff" stroke="#777777" stroke-opacity="0.75" stroke-width="0.7"/>
<rect x="363.70" y="342.90" width="3.0" height="3.0" rx="0.8" fill="#fff" stroke="#777777" stroke-opacity="0.75" stroke-width="0.7"/>
<rect x="376.25" y="340.40" width="3.0" height="3.0" rx="0.8" fill="#fff" stroke="#777777" stroke-opacity="0.75" stroke-width="0.7"/>
<rect x="388.80" y="338.20" width="3.0" height="3.0" rx="0.8" fill="#fff" stroke="#777777" stroke-opacity="0.75" stroke-width="0.7"/>
<rect x="401.35" y="336.30" width="3.0" height="3.0" rx="0.8" fill="#fff" stroke="#777777" stroke-opacity="0.75" stroke-width="0.7"/>
<rect x="413.90" y="333.80" width="3.0" height="3.0" rx="0.8" fill="#fff" stroke="#777777" stroke-opacity="0.75" stroke-width="0.7"/>
<rect x="426.45" y="331.70" width="3.0" height="3.0" rx="0.8" fill="#fff" stroke="#777777" stroke-opacity="0.75" stroke-width="0.7"/>
<rect x="439.00" y="329.60" width="3.0" height="3.0" rx="0.8" fill="#fff" stroke="#777777" stroke-opacity="0.75" stroke-width="0.7"/>
<rect x="451.55" y="327.70" width="3.0" height="3.0" rx="0.8" fill="#fff" stroke="#777777" stroke-opacity="0.75" stroke-width="0.7"/>
<rect x="464.10" y="325.70" width="3.0" height="3.0" rx="0.8" fill="#fff" stroke="#777777" stroke-opacity="0.75" stroke-width="0.7"/>
<rect x="476.65" y="323.50" width="3.0" height="3.0" rx="0.8" fill="#fff" stroke="#777777" stroke-opacity="0.75" stroke-width="0.7"/>
<rect x="489.20" y="321.60" width="3.0" height="3.0" rx="0.8" fill="#fff" stroke="#777777" stroke-opacity="0.75" stroke-width="0.7"/>
<rect x="501.75" y="319.60" width="3.0" height="3.0" rx="0.8" fill="#fff" stroke="#777777" stroke-opacity="0.75" stroke-width="0.7"/>
<rect x="514.30" y="316.70" width="3.0" height="3.0" rx="0.8" fill="#fff" stroke="#777777" stroke-opacity="0.75" stroke-width="0.7"/>
<rect x="526.85" y="316.70" width="3.0" height="3.0" rx="0.8" fill="#fff" stroke="#777777" stroke-opacity="0.75" stroke-width="0.7"/>
<rect x="539.40" y="319.10" width="3.0" height="3.0" rx="0.8" fill="#fff" stroke="#777777" stroke-opacity="0.75" stroke-width="0.7"/>
<polyline points="315.00,316.50 327.55,316.20 340.10,316.00 352.65,315.70 365.20,316.00 377.75,316.00 390.30,315.70 402.85,315.70 415.40,315.20 427.95,314.80 440.50,313.80 453.05,312.80 465.60,312.50 478.15,311.30 490.70,310.10 503.25,308.90 515.80,307.10 528.35,305.20 540.90,303.50" fill="none" stroke="#ff6464" stroke-width="1" stroke-linejoin="round"/>
<rect x="326.05" y="314.70" width="3.0" height="3.0" rx="0.8" fill="#fff" stroke="#ff6464" stroke-opacity="0.75" stroke-width="0.7"/>
<rect x="338.60" y="314.50" width="3.0" height="3.0" rx="0.8" fill="#fff" stroke="#ff6464" stroke-opacity="0.75" stroke-width="0.7"/>
<rect x="351.15" y="314.20" width="3.0" height="3.0" rx="0.8" fill="#fff" stroke="#ff6464" stroke-opacity="0.75" stroke-width="0.7"/>
<rect x="363.70" y="314.50" width="3.0" height="3.0" rx="0.8" fill="#fff" stroke="#ff6464" stroke-opacity="0.75" stroke-width="0.7"/>
<rect x="376.25" y="314.50" width="3.0" height="3.0" rx="0.8" fill="#fff" stroke="#ff6464" stroke-opacity="0.75" stroke-width="0.7"/>
<rect x="388.80" y="314.20" width="3.0" height="3.0" rx="0.8" fill="#fff" stroke="#ff6464" stroke-opacity="0.75" stroke-width="0.7"/>
<rect x="401.35" y="314.20" width="3.0" height="3.0" rx="0.8" fill="#fff" stroke="#ff6464" stroke-opacity="0.75" stroke-width="0.7"/>
<rect x="413.90" y="313.70" width="3.0" height="3.0" rx="0.8" fill="#fff" stroke="#ff6464" stroke-opacity="0.75" stroke-width="0.7"/>
<rect x="426.45" y="313.30" width="3.0" height="3.0" rx="0.8" fill="#fff" stroke="#ff6464" stroke-opacity="0.75" stroke-width="0.7"/>
<rect x="439.00" y="312.30" width="3.0" height="3.0" rx="0.8" fill="#fff" stroke="#ff6464" stroke-opacity="0.75" stroke-width="0.7"/>
<rect x="451.55" y="311.30" width="3.0" height="3.0" rx="0.8" fill="#fff" stroke="#ff6464" stroke-opacity="0.75" stroke-width="0.7"/>
<rect x="464.10" y="311.00" width="3.0" height="3.0" rx="0.8" fill="#fff" stroke="#ff6464" stroke-opacity="0.75" stroke-width="0.7"/>
<rect x="476.65" y="309.80" width="3.0" height="3.0" rx="0.8" fill="#fff" stroke="#ff6464" stroke-opacity="0.75" stroke-width="0.7"/>
<rect x="489.20" y="308.60" width="3.0" height="3.0" rx="0.8" fill="#fff" stroke="#ff6464" stroke-opacity="0.75" stroke-width="0.7"/>
<rect x="501.75" y="307.40" width="3.0" height="3.0" rx="0.8" fill="#fff" stroke="#ff6464" stroke-opacity="0.75" stroke-width="0.7"/>
<rect x="514.30" y="305.60" width="3.0" height="3.0" rx="0.8" fill="#fff" stroke="#ff6464" stroke-opacity="0.75" stroke-width="0.7"/>
<rect x="526.85" y="303.70" width="3.0" height="3.0" rx="0.8" fill="#fff" stroke="#ff6464" stroke-opacity="0.75" stroke-width="0.7"/>
<rect x="539.40" y="302.00" width="3.0" height="3.0" rx="0.8" fill="#fff" stroke="#ff6464" stroke-opacity="0.75" stroke-width="0.7"/>
<polyline points="315.00,285.80 327.55,285.80 340.10,285.40 352.65,285.40 365.20,285.40 377.75,285.40 390.30,285.00 402.85,285.00 415.40,284.70 427.95,284.50 440.50,284.70 453.05,284.70 465.60,284.30 478.15,284.30 490.70,284.70 503.25,284.30 515.80,283.90 528.35,283.20 540.90,282.10" fill="none" stroke="#3888e8" stroke-width="1" stroke-linejoin="round"/>
<rect x="326.05" y="284.30" width="3.0" height="3.0" rx="0.8" fill="#fff" stroke="#3888e8" stroke-opacity="0.75" stroke-width="0.7"/>
<rect x="338.60" y="283.90" width="3.0" height="3.0" rx="0.8" fill="#fff" stroke="#3888e8" stroke-opacity="0.75" stroke-width="0.7"/>
<rect x="351.15" y="283.90" width="3.0" height="3.0" rx="0.8" fill="#fff" stroke="#3888e8" stroke-opacity="0.75" stroke-width="0.7"/>
<rect x="363.70" y="283.90" width="3.0" height="3.0" rx="0.8" fill="#fff" stroke="#3888e8" stroke-opacity="0.75" stroke-width="0.7"/>
<rect x="376.25" y="283.90" width="3.0" height="3.0" rx="0.8" fill="#fff" stroke="#3888e8" stroke-opacity="0.75" stroke-width="0.7"/>
<rect x="388.80" y="283.50" width="3.0" height="3.0" rx="0.8" fill="#fff" stroke="#3888e8" stroke-opacity="0.75" stroke-width="0.7"/>
<rect x="401.35" y="283.50" width="3.0" height="3.0" rx="0.8" fill="#fff" stroke="#3888e8" stroke-opacity="0.75" stroke-width="0.7"/>
<rect x="413.90" y="283.20" width="3.0" height="3.0" rx="0.8" fill="#fff" stroke="#3888e8" stroke-opacity="0.75" stroke-width="0.7"/>
<rect x="426.45" y="283.00" width="3.0" height="3.0" rx="0.8" fill="#fff" stroke="#3888e8" stroke-opacity="0.75" stroke-width="0.7"/>
<rect x="439.00" y="283.20" width="3.0" height="3.0" rx="0.8" fill="#fff" stroke="#3888e8" stroke-opacity="0.75" stroke-width="0.7"/>
<rect x="451.55" y="283.20" width="3.0" height="3.0" rx="0.8" fill="#fff" stroke="#3888e8" stroke-opacity="0.75" stroke-width="0.7"/>
<rect x="464.10" y="282.80" width="3.0" height="3.0" rx="0.8" fill="#fff" stroke="#3888e8" stroke-opacity="0.75" stroke-width="0.7"/>
<rect x="476.65" y="282.80" width="3.0" height="3.0" rx="0.8" fill="#fff" stroke="#3888e8" stroke-opacity="0.75" stroke-width="0.7"/>
<rect x="489.20" y="283.20" width="3.0" height="3.0" rx="0.8" fill="#fff" stroke="#3888e8" stroke-opacity="0.75" stroke-width="0.7"/>
<rect x="501.75" y="282.80" width="3.0" height="3.0" rx="0.8" fill="#fff" stroke="#3888e8" stroke-opacity="0.75" stroke-width="0.7"/>
<rect x="514.30" y="282.40" width="3.0" height="3.0" rx="0.8" fill="#fff" stroke="#3888e8" stroke-opacity="0.75" stroke-width="0.7"/>
<rect x="526.85" y="281.70" width="3.0" height="3.0" rx="0.8" fill="#fff" stroke="#3888e8" stroke-opacity="0.75" stroke-width="0.7"/>
<rect x="539.40" y="280.60" width="3.0" height="3.0" rx="0.8" fill="#fff" stroke="#3888e8" stroke-opacity="0.75" stroke-width="0.7"/>
<polyline points="315.00,278.80 327.55,279.50 340.10,278.80 352.65,278.80 365.20,278.80 377.75,278.80 390.30,278.80 402.85,278.80 415.40,277.30 427.95,278.80 440.50,278.20 453.05,277.80 465.60,277.30 478.15,276.70 490.70,276.70 503.25,276.00 515.80,275.60 528.35,274.00 540.90,274.50" fill="none" stroke="#32b77a" stroke-width="1" stroke-linejoin="round"/>
<rect x="326.05" y="278.00" width="3.0" height="3.0" rx="0.8" fill="#fff" stroke="#32b77a" stroke-opacity="0.75" stroke-width="0.7"/>
<rect x="338.60" y="277.30" width="3.0" height="3.0" rx="0.8" fill="#fff" stroke="#32b77a" stroke-opacity="0.75" stroke-width="0.7"/>
<rect x="351.15" y="277.30" width="3.0" height="3.0" rx="0.8" fill="#fff" stroke="#32b77a" stroke-opacity="0.75" stroke-width="0.7"/>
<rect x="363.70" y="277.30" width="3.0" height="3.0" rx="0.8" fill="#fff" stroke="#32b77a" stroke-opacity="0.75" stroke-width="0.7"/>
<rect x="376.25" y="277.30" width="3.0" height="3.0" rx="0.8" fill="#fff" stroke="#32b77a" stroke-opacity="0.75" stroke-width="0.7"/>
<rect x="388.80" y="277.30" width="3.0" height="3.0" rx="0.8" fill="#fff" stroke="#32b77a" stroke-opacity="0.75" stroke-width="0.7"/>
<rect x="401.35" y="277.30" width="3.0" height="3.0" rx="0.8" fill="#fff" stroke="#32b77a" stroke-opacity="0.75" stroke-width="0.7"/>
<rect x="413.90" y="275.80" width="3.0" height="3.0" rx="0.8" fill="#fff" stroke="#32b77a" stroke-opacity="0.75" stroke-width="0.7"/>
<rect x="426.45" y="277.30" width="3.0" height="3.0" rx="0.8" fill="#fff" stroke="#32b77a" stroke-opacity="0.75" stroke-width="0.7"/>
<rect x="439.00" y="276.70" width="3.0" height="3.0" rx="0.8" fill="#fff" stroke="#32b77a" stroke-opacity="0.75" stroke-width="0.7"/>
<rect x="451.55" y="276.30" width="3.0" height="3.0" rx="0.8" fill="#fff" stroke="#32b77a" stroke-opacity="0.75" stroke-width="0.7"/>
<rect x="464.10" y="275.80" width="3.0" height="3.0" rx="0.8" fill="#fff" stroke="#32b77a" stroke-opacity="0.75" stroke-width="0.7"/>
<rect x="476.65" y="275.20" width="3.0" height="3.0" rx="0.8" fill="#fff" stroke="#32b77a" stroke-opacity="0.75" stroke-width="0.7"/>
<rect x="489.20" y="275.20" width="3.0" height="3.0" rx="0.8" fill="#fff" stroke="#32b77a" stroke-opacity="0.75" stroke-width="0.7"/>
<rect x="501.75" y="274.50" width="3.0" height="3.0" rx="0.8" fill="#fff" stroke="#32b77a" stroke-opacity="0.75" stroke-width="0.7"/>
<rect x="514.30" y="274.10" width="3.0" height="3.0" rx="0.8" fill="#fff" stroke="#32b77a" stroke-opacity="0.75" stroke-width="0.7"/>
<rect x="526.85" y="272.50" width="3.0" height="3.0" rx="0.8" fill="#fff" stroke="#32b77a" stroke-opacity="0.75" stroke-width="0.7"/>
<rect x="539.40" y="273.00" width="3.0" height="3.0" rx="0.8" fill="#fff" stroke="#32b77a" stroke-opacity="0.75" stroke-width="0.7"/>
</g>
<text x="310.90" y="391.50" font-size="9.0" text-anchor="end" >10<tspan font-size="5.3" dx="0.3" dy="-4.4">−5</tspan></text>
<text x="310.90" y="371.77" font-size="9.0" text-anchor="end" >10<tspan font-size="5.3" dx="0.3" dy="-4.4">−4</tspan></text>
<text x="310.90" y="352.04" font-size="9.0" text-anchor="end" >0.001</text>
<text x="310.90" y="332.31" font-size="9.0" text-anchor="end" >0.01</text>
<text x="310.90" y="312.58" font-size="9.0" text-anchor="end" >0.1</text>
<text x="310.90" y="292.85" font-size="9.0" text-anchor="end" >1</text>
<text x="310.90" y="273.12" font-size="9.0" text-anchor="end" >10</text>
<text x="310.90" y="253.39" font-size="9.0" text-anchor="end" >100</text>
<text x="310.90" y="233.66" font-size="9.0" text-anchor="end" >1000</text>
<text x="315.00" y="404.40" font-size="9.0" text-anchor="middle" >0.01</text>
<text x="428.40" y="404.40" font-size="9.0" text-anchor="middle" >0.1</text>
<text x="541.80" y="404.40" font-size="9.0" text-anchor="middle" >1</text>
<text x="428.40" y="422.40" font-size="10.2" text-anchor="middle" >f (hz)</text>
<text x="0" y="0" font-size="10.9" text-anchor="middle" transform="translate(285.00,305.00) rotate(-90)">G'G"(Pa)</text>
<rect x="337.10" y="217.60" width="204.70" height="24.70" fill="#fff" stroke="#c0c0c0" stroke-width="1.1"/>
<line x1="336.60" y1="242.30" x2="541.80" y2="242.30" stroke="#999" stroke-width="1"/>
<line x1="337.60" y1="225.10" x2="358.70" y2="225.10" stroke="#777777" stroke-width="1"/>
<rect x="347.35" y="223.65" width="2.9" height="2.9" fill="#3a3a3a"/>
<text x="358.80" y="227.90" font-size="9.2" text-anchor="start" >G'</text>
<line x1="368.70" y1="225.10" x2="389.70" y2="225.10" stroke="#777777" stroke-width="1"/>
<rect x="377.50" y="223.60" width="3.0" height="3.0" rx="0.8" fill="#fff" stroke="#777777" stroke-opacity="0.75" stroke-width="0.7"/>
<text x="391.40" y="227.90" font-size="9.2" text-anchor="start" >G" 0.25wt%</text>
<line x1="440.40" y1="225.10" x2="461.50" y2="225.10" stroke="#ff6464" stroke-width="1"/>
<circle cx="451.60" cy="225.10" r="1.7" fill="#ff2a2a"/>
<text x="461.60" y="227.90" font-size="9.2" text-anchor="start" >G'</text>
<line x1="471.50" y1="225.10" x2="492.50" y2="225.10" stroke="#ff6464" stroke-width="1"/>
<rect x="480.30" y="223.60" width="3.0" height="3.0" rx="0.8" fill="#fff" stroke="#ff6464" stroke-opacity="0.75" stroke-width="0.7"/>
<text x="494.20" y="227.90" font-size="9.2" text-anchor="start" >G" 0.5wt%</text>
<line x1="337.60" y1="236.10" x2="358.70" y2="236.10" stroke="#3888e8" stroke-width="1"/>
<polygon points="348.80,234.00 350.80,237.50 346.80,237.50" fill="#1662d6"/>
<text x="358.80" y="238.90" font-size="9.2" text-anchor="start" >G'</text>
<line x1="368.70" y1="236.10" x2="389.70" y2="236.10" stroke="#3888e8" stroke-width="1"/>
<rect x="377.50" y="234.60" width="3.0" height="3.0" rx="0.8" fill="#fff" stroke="#3888e8" stroke-opacity="0.75" stroke-width="0.7"/>
<text x="391.40" y="238.90" font-size="9.2" text-anchor="start" >G" 1wt%</text>
<line x1="440.40" y1="236.10" x2="461.50" y2="236.10" stroke="#32b77a" stroke-width="1"/>
<polygon points="451.60,238.20 453.60,234.70 449.60,234.70" fill="#0f9a55"/>
<text x="461.60" y="238.90" font-size="9.2" text-anchor="start" >G'</text>
<line x1="471.50" y1="236.10" x2="492.50" y2="236.10" stroke="#32b77a" stroke-width="1"/>
<rect x="480.30" y="234.60" width="3.0" height="3.0" rx="0.8" fill="#fff" stroke="#32b77a" stroke-opacity="0.75" stroke-width="0.7"/>
<text x="494.20" y="238.90" font-size="9.2" text-anchor="start" >G" 2wt%</text>
<line x1="315.00" y1="217.60" x2="541.80" y2="217.60" stroke="#7a7a7a" stroke-width="1"/>
<line x1="541.80" y1="217.10" x2="541.80" y2="393.90" stroke="#a8a8a8" stroke-width="1.3"/>
<line x1="315.00" y1="393.40" x2="542.40" y2="393.40" stroke="#5a5a5a" stroke-width="1"/>
<line x1="315.00" y1="217.10" x2="315.00" y2="393.90" stroke="#939393" stroke-width="1.3"/>
<line x1="314.60" y1="392.32" x2="316.60" y2="392.32" stroke="#666" stroke-width="0.8"/>
<line x1="314.60" y1="391.00" x2="316.60" y2="391.00" stroke="#666" stroke-width="0.8"/>
<line x1="314.60" y1="389.85" x2="316.60" y2="389.85" stroke="#666" stroke-width="0.8"/>
<line x1="314.60" y1="388.84" x2="316.60" y2="388.84" stroke="#666" stroke-width="0.8"/>
<line x1="314.60" y1="387.94" x2="317.80" y2="387.94" stroke="#666" stroke-width="0.8"/>
<line x1="314.60" y1="382.00" x2="316.60" y2="382.00" stroke="#666" stroke-width="0.8"/>
<line x1="314.60" y1="378.53" x2="316.60" y2="378.53" stroke="#666" stroke-width="0.8"/>
<line x1="314.60" y1="376.06" x2="316.60" y2="376.06" stroke="#666" stroke-width="0.8"/>
<line x1="314.60" y1="374.15" x2="316.60" y2="374.15" stroke="#666" stroke-width="0.8"/>
<line x1="314.60" y1="372.59" x2="316.60" y2="372.59" stroke="#666" stroke-width="0.8"/>
<line x1="314.60" y1="371.27" x2="316.60" y2="371.27" stroke="#666" stroke-width="0.8"/>
<line x1="314.60" y1="370.12" x2="316.60" y2="370.12" stroke="#666" stroke-width="0.8"/>
<line x1="314.60" y1="369.11" x2="316.60" y2="369.11" stroke="#666" stroke-width="0.8"/>
<line x1="314.60" y1="368.21" x2="317.80" y2="368.21" stroke="#666" stroke-width="0.8"/>
<line x1="314.60" y1="362.27" x2="316.60" y2="362.27" stroke="#666" stroke-width="0.8"/>
<line x1="314.60" y1="358.80" x2="316.60" y2="358.80" stroke="#666" stroke-width="0.8"/>
<line x1="314.60" y1="356.33" x2="316.60" y2="356.33" stroke="#666" stroke-width="0.8"/>
<line x1="314.60" y1="354.42" x2="316.60" y2="354.42" stroke="#666" stroke-width="0.8"/>
<line x1="314.60" y1="352.86" x2="316.60" y2="352.86" stroke="#666" stroke-width="0.8"/>
<line x1="314.60" y1="351.54" x2="316.60" y2="351.54" stroke="#666" stroke-width="0.8"/>
<line x1="314.60" y1="350.39" x2="316.60" y2="350.39" stroke="#666" stroke-width="0.8"/>
<line x1="314.60" y1="349.38" x2="316.60" y2="349.38" stroke="#666" stroke-width="0.8"/>
<line x1="314.60" y1="348.48" x2="317.80" y2="348.48" stroke="#666" stroke-width="0.8"/>
<line x1="314.60" y1="342.54" x2="316.60" y2="342.54" stroke="#666" stroke-width="0.8"/>
<line x1="314.60" y1="339.07" x2="316.60" y2="339.07" stroke="#666" stroke-width="0.8"/>
<line x1="314.60" y1="336.60" x2="316.60" y2="336.60" stroke="#666" stroke-width="0.8"/>
<line x1="314.60" y1="334.69" x2="316.60" y2="334.69" stroke="#666" stroke-width="0.8"/>
<line x1="314.60" y1="333.13" x2="316.60" y2="333.13" stroke="#666" stroke-width="0.8"/>
<line x1="314.60" y1="331.81" x2="316.60" y2="331.81" stroke="#666" stroke-width="0.8"/>
<line x1="314.60" y1="330.66" x2="316.60" y2="330.66" stroke="#666" stroke-width="0.8"/>
<line x1="314.60" y1="329.65" x2="316.60" y2="329.65" stroke="#666" stroke-width="0.8"/>
<line x1="314.60" y1="328.75" x2="317.80" y2="328.75" stroke="#666" stroke-width="0.8"/>
<line x1="314.60" y1="322.81" x2="316.60" y2="322.81" stroke="#666" stroke-width="0.8"/>
<line x1="314.60" y1="319.34" x2="316.60" y2="319.34" stroke="#666" stroke-width="0.8"/>
<line x1="314.60" y1="316.87" x2="316.60" y2="316.87" stroke="#666" stroke-width="0.8"/>
<line x1="314.60" y1="314.96" x2="316.60" y2="314.96" stroke="#666" stroke-width="0.8"/>
<line x1="314.60" y1="313.40" x2="316.60" y2="313.40" stroke="#666" stroke-width="0.8"/>
<line x1="314.60" y1="312.08" x2="316.60" y2="312.08" stroke="#666" stroke-width="0.8"/>
<line x1="314.60" y1="310.93" x2="316.60" y2="310.93" stroke="#666" stroke-width="0.8"/>
<line x1="314.60" y1="309.92" x2="316.60" y2="309.92" stroke="#666" stroke-width="0.8"/>
<line x1="314.60" y1="309.02" x2="317.80" y2="309.02" stroke="#666" stroke-width="0.8"/>
<line x1="314.60" y1="303.08" x2="316.60" y2="303.08" stroke="#666" stroke-width="0.8"/>
<line x1="314.60" y1="299.61" x2="316.60" y2="299.61" stroke="#666" stroke-width="0.8"/>
<line x1="314.60" y1="297.14" x2="316.60" y2="297.14" stroke="#666" stroke-width="0.8"/>
<line x1="314.60" y1="295.23" x2="316.60" y2="295.23" stroke="#666" stroke-width="0.8"/>
<line x1="314.60" y1="293.67" x2="316.60" y2="293.67" stroke="#666" stroke-width="0.8"/>
<line x1="314.60" y1="292.35" x2="316.60" y2="292.35" stroke="#666" stroke-width="0.8"/>
<line x1="314.60" y1="291.20" x2="316.60" y2="291.20" stroke="#666" stroke-width="0.8"/>
<line x1="314.60" y1="290.19" x2="316.60" y2="290.19" stroke="#666" stroke-width="0.8"/>
<line x1="314.60" y1="289.29" x2="317.80" y2="289.29" stroke="#666" stroke-width="0.8"/>
<line x1="314.60" y1="283.35" x2="316.60" y2="283.35" stroke="#666" stroke-width="0.8"/>
<line x1="314.60" y1="279.88" x2="316.60" y2="279.88" stroke="#666" stroke-width="0.8"/>
<line x1="314.60" y1="277.41" x2="316.60" y2="277.41" stroke="#666" stroke-width="0.8"/>
<line x1="314.60" y1="275.50" x2="316.60" y2="275.50" stroke="#666" stroke-width="0.8"/>
<line x1="314.60" y1="273.94" x2="316.60" y2="273.94" stroke="#666" stroke-width="0.8"/>
<line x1="314.60" y1="272.62" x2="316.60" y2="272.62" stroke="#666" stroke-width="0.8"/>
<line x1="314.60" y1="271.47" x2="316.60" y2="271.47" stroke="#666" stroke-width="0.8"/>
<line x1="314.60" y1="270.46" x2="316.60" y2="270.46" stroke="#666" stroke-width="0.8"/>
<line x1="314.60" y1="269.56" x2="317.80" y2="269.56" stroke="#666" stroke-width="0.8"/>
<line x1="314.60" y1="263.62" x2="316.60" y2="263.62" stroke="#666" stroke-width="0.8"/>
<line x1="314.60" y1="260.15" x2="316.60" y2="260.15" stroke="#666" stroke-width="0.8"/>
<line x1="314.60" y1="257.68" x2="316.60" y2="257.68" stroke="#666" stroke-width="0.8"/>
<line x1="314.60" y1="255.77" x2="316.60" y2="255.77" stroke="#666" stroke-width="0.8"/>
<line x1="314.60" y1="254.21" x2="316.60" y2="254.21" stroke="#666" stroke-width="0.8"/>
<line x1="314.60" y1="252.89" x2="316.60" y2="252.89" stroke="#666" stroke-width="0.8"/>
<line x1="314.60" y1="251.74" x2="316.60" y2="251.74" stroke="#666" stroke-width="0.8"/>
<line x1="314.60" y1="250.73" x2="316.60" y2="250.73" stroke="#666" stroke-width="0.8"/>
<line x1="314.60" y1="249.83" x2="317.80" y2="249.83" stroke="#666" stroke-width="0.8"/>
<line x1="314.60" y1="243.89" x2="316.60" y2="243.89" stroke="#666" stroke-width="0.8"/>
<line x1="314.60" y1="240.42" x2="316.60" y2="240.42" stroke="#666" stroke-width="0.8"/>
<line x1="314.60" y1="237.95" x2="316.60" y2="237.95" stroke="#666" stroke-width="0.8"/>
<line x1="314.60" y1="236.04" x2="316.60" y2="236.04" stroke="#666" stroke-width="0.8"/>
<line x1="314.60" y1="234.48" x2="316.60" y2="234.48" stroke="#666" stroke-width="0.8"/>
<line x1="314.60" y1="233.16" x2="316.60" y2="233.16" stroke="#666" stroke-width="0.8"/>
<line x1="314.60" y1="232.01" x2="316.60" y2="232.01" stroke="#666" stroke-width="0.8"/>
<line x1="314.60" y1="231.00" x2="316.60" y2="231.00" stroke="#666" stroke-width="0.8"/>
<line x1="314.60" y1="230.10" x2="317.80" y2="230.10" stroke="#666" stroke-width="0.8"/>
<line x1="314.60" y1="224.16" x2="316.60" y2="224.16" stroke="#666" stroke-width="0.8"/>
<line x1="314.60" y1="220.69" x2="316.60" y2="220.69" stroke="#666" stroke-width="0.8"/>
<line x1="314.60" y1="218.22" x2="316.60" y2="218.22" stroke="#666" stroke-width="0.8"/>
<line x1="315.00" y1="393.40" x2="315.00" y2="390.60" stroke="#666" stroke-width="0.8"/>
<line x1="349.14" y1="393.40" x2="349.14" y2="391.80" stroke="#666" stroke-width="0.8"/>
<line x1="369.11" y1="393.40" x2="369.11" y2="391.80" stroke="#666" stroke-width="0.8"/>
<line x1="383.27" y1="393.40" x2="383.27" y2="391.80" stroke="#666" stroke-width="0.8"/>
<line x1="394.26" y1="393.40" x2="394.26" y2="391.80" stroke="#666" stroke-width="0.8"/>
<line x1="403.24" y1="393.40" x2="403.24" y2="391.80" stroke="#666" stroke-width="0.8"/>
<line x1="410.83" y1="393.40" x2="410.83" y2="391.80" stroke="#666" stroke-width="0.8"/>
<line x1="417.41" y1="393.40" x2="417.41" y2="391.80" stroke="#666" stroke-width="0.8"/>
<line x1="423.21" y1="393.40" x2="423.21" y2="391.80" stroke="#666" stroke-width="0.8"/>
<line x1="428.40" y1="393.40" x2="428.40" y2="390.60" stroke="#666" stroke-width="0.8"/>
<line x1="462.54" y1="393.40" x2="462.54" y2="391.80" stroke="#666" stroke-width="0.8"/>
<line x1="482.51" y1="393.40" x2="482.51" y2="391.80" stroke="#666" stroke-width="0.8"/>
<line x1="496.67" y1="393.40" x2="496.67" y2="391.80" stroke="#666" stroke-width="0.8"/>
<line x1="507.66" y1="393.40" x2="507.66" y2="391.80" stroke="#666" stroke-width="0.8"/>
<line x1="516.64" y1="393.40" x2="516.64" y2="391.80" stroke="#666" stroke-width="0.8"/>
<line x1="524.23" y1="393.40" x2="524.23" y2="391.80" stroke="#666" stroke-width="0.8"/>
<line x1="530.81" y1="393.40" x2="530.81" y2="391.80" stroke="#666" stroke-width="0.8"/>
<line x1="536.61" y1="393.40" x2="536.61" y2="391.80" stroke="#666" stroke-width="0.8"/>
<text x="280.10" y="225.80" font-size="10.8" text-anchor="start" style="font-weight:normal;stroke-width:0.3px">(</text>
<text x="285.50" y="226.70" font-size="11.4" text-anchor="start" >d</text>
<text x="293.70" y="225.80" font-size="10.8" text-anchor="start" style="font-weight:normal;stroke-width:0.3px">)</text>
</svg>
</body></html>
